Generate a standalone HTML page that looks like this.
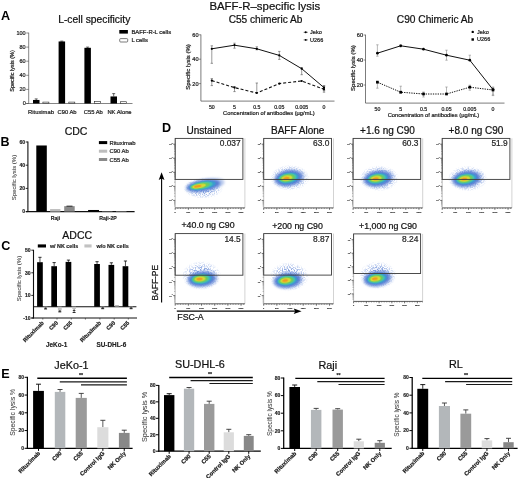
<!DOCTYPE html>
<html><head><meta charset="utf-8"><title>Figure</title>
<style>html,body{margin:0;padding:0;background:#fff}svg{display:block}text{font-family:'Liberation Sans', sans-serif}</style>
</head><body>
<svg width="520" height="478" viewBox="0 0 520 478" font-family="Liberation Sans, sans-serif">
<rect width="520" height="478" fill="#fff"/>
<text x="1" y="20.3" font-size="12.6" text-anchor="start" font-weight="bold" fill="#000">A</text>
<text x="58.2" y="23" font-size="10.3" text-anchor="start" font-weight="normal" fill="#111" stroke="#111" stroke-width="0.22">L-cell specificity</text>
<line x1="28.7" y1="32.7" x2="28.7" y2="103.8" stroke="#666" stroke-width="0.8"/>
<line x1="26.2" y1="103.5" x2="132.5" y2="103.5" stroke="#666" stroke-width="0.8"/>
<line x1="26.2" y1="103.5" x2="28.7" y2="103.5" stroke="#444" stroke-width="0.6"/>
<text x="25.7" y="105.4" font-size="5.5" text-anchor="end" font-weight="normal" fill="#222" stroke="#222" stroke-width="0.22">0</text>
<line x1="26.2" y1="89.4" x2="28.7" y2="89.4" stroke="#444" stroke-width="0.6"/>
<text x="25.7" y="91.30000000000001" font-size="5.5" text-anchor="end" font-weight="normal" fill="#222" stroke="#222" stroke-width="0.22">20</text>
<line x1="26.2" y1="75.3" x2="28.7" y2="75.3" stroke="#444" stroke-width="0.6"/>
<text x="25.7" y="77.2" font-size="5.5" text-anchor="end" font-weight="normal" fill="#222" stroke="#222" stroke-width="0.22">40</text>
<line x1="26.2" y1="61.2" x2="28.7" y2="61.2" stroke="#444" stroke-width="0.6"/>
<text x="25.7" y="63.1" font-size="5.5" text-anchor="end" font-weight="normal" fill="#222" stroke="#222" stroke-width="0.22">60</text>
<line x1="26.2" y1="47.1" x2="28.7" y2="47.1" stroke="#444" stroke-width="0.6"/>
<text x="25.7" y="49.0" font-size="5.5" text-anchor="end" font-weight="normal" fill="#222" stroke="#222" stroke-width="0.22">80</text>
<line x1="26.2" y1="33.0" x2="28.7" y2="33.0" stroke="#444" stroke-width="0.6"/>
<text x="25.7" y="34.9" font-size="5.5" text-anchor="end" font-weight="normal" fill="#222" stroke="#222" stroke-width="0.22">100</text>
<text x="13.7" y="71" font-size="5.5" text-anchor="middle" font-weight="normal" fill="#222" transform="rotate(-90 13.7 71)" stroke="#222" stroke-width="0.22">Specific lysis (%)</text>
<line x1="36.2" y1="99.975" x2="36.2" y2="98.9175" stroke="#000" stroke-width="0.6"/>
<line x1="34.7" y1="98.9175" x2="37.7" y2="98.9175" stroke="#000" stroke-width="0.6"/>
<rect x="33.00" y="99.97" width="6.50" height="3.52" fill="#000" stroke="none" stroke-width="0.5"/>
<rect x="42.90" y="102.09" width="6.00" height="1.41" fill="#fff" stroke="#222" stroke-width="0.6"/>
<text x="41" y="113.6" font-size="5.8" text-anchor="middle" font-weight="normal" fill="#222" stroke="#222" stroke-width="0.22">Rituximab</text>
<line x1="61.800000000000004" y1="41.46" x2="61.800000000000004" y2="41.1075" stroke="#000" stroke-width="0.6"/>
<line x1="60.300000000000004" y1="41.1075" x2="63.300000000000004" y2="41.1075" stroke="#000" stroke-width="0.6"/>
<rect x="58.60" y="41.46" width="6.50" height="62.04" fill="#000" stroke="none" stroke-width="0.5"/>
<rect x="68.80" y="102.09" width="6.00" height="1.41" fill="#fff" stroke="#222" stroke-width="0.6"/>
<text x="67" y="113.6" font-size="5.8" text-anchor="middle" font-weight="normal" fill="#222" stroke="#222" stroke-width="0.22">C90 Ab</text>
<line x1="87.60000000000001" y1="47.805" x2="87.60000000000001" y2="47.1" stroke="#000" stroke-width="0.6"/>
<line x1="86.10000000000001" y1="47.1" x2="89.10000000000001" y2="47.1" stroke="#000" stroke-width="0.6"/>
<rect x="84.40" y="47.80" width="6.50" height="55.70" fill="#000" stroke="none" stroke-width="0.5"/>
<rect x="94.60" y="101.39" width="6.00" height="2.11" fill="#fff" stroke="#222" stroke-width="0.6"/>
<text x="93.3" y="113.6" font-size="5.8" text-anchor="middle" font-weight="normal" fill="#222" stroke="#222" stroke-width="0.22">C55 Ab</text>
<line x1="113.7" y1="96.45" x2="113.7" y2="93.63" stroke="#000" stroke-width="0.6"/>
<line x1="112.2" y1="93.63" x2="115.2" y2="93.63" stroke="#000" stroke-width="0.6"/>
<rect x="110.50" y="96.45" width="6.50" height="7.05" fill="#000" stroke="none" stroke-width="0.5"/>
<rect x="120.60" y="101.74" width="6.00" height="1.76" fill="#fff" stroke="#222" stroke-width="0.6"/>
<text x="119.5" y="113.6" font-size="5.8" text-anchor="middle" font-weight="normal" fill="#222" stroke="#222" stroke-width="0.22">NK Alone</text>
<rect x="119.30" y="30.00" width="8.60" height="3.60" fill="#000" stroke="none" stroke-width="0.5"/>
<rect x="119.7" y="38.6" width="8" height="3.4" rx="0.9" fill="#fff" stroke="#444" stroke-width="0.7"/>
<text x="131.4" y="34.1" font-size="5.9" text-anchor="start" font-weight="normal" fill="#222" stroke="#222" stroke-width="0.22">BAFF-R-L cells</text>
<text x="131.4" y="42.1" font-size="5.9" text-anchor="start" font-weight="normal" fill="#222" stroke="#222" stroke-width="0.22">L cells</text>
<text x="264.8" y="10" font-size="11.4" text-anchor="middle" font-weight="normal" fill="#111" stroke="#111" stroke-width="0.22">BAFF-R–specific lysis</text>
<text x="265.5" y="22.6" font-size="10.15" text-anchor="middle" font-weight="normal" fill="#111" stroke="#111" stroke-width="0.22">C55 chimeric Ab</text>
<text x="435" y="23" font-size="10.2" text-anchor="middle" font-weight="normal" fill="#111" stroke="#111" stroke-width="0.22">C90 Chimeric Ab</text>
<line x1="200.9" y1="34.5" x2="200.9" y2="101.1" stroke="#444" stroke-width="0.7"/>
<line x1="200.9" y1="101.1" x2="334.5" y2="101.1" stroke="#444" stroke-width="0.7"/>
<line x1="198.9" y1="83.6" x2="200.9" y2="83.6" stroke="#444" stroke-width="0.6"/>
<text x="198.5" y="85.6" font-size="5.6" text-anchor="end" font-weight="normal" fill="#222" stroke="#222" stroke-width="0.22">20</text>
<line x1="198.9" y1="59.199999999999996" x2="200.9" y2="59.199999999999996" stroke="#444" stroke-width="0.6"/>
<text x="198.5" y="61.199999999999996" font-size="5.6" text-anchor="end" font-weight="normal" fill="#222" stroke="#222" stroke-width="0.22">40</text>
<line x1="198.9" y1="34.8" x2="200.9" y2="34.8" stroke="#444" stroke-width="0.6"/>
<text x="198.5" y="36.8" font-size="5.6" text-anchor="end" font-weight="normal" fill="#222" stroke="#222" stroke-width="0.22">60</text>
<text x="211.8" y="108.5" font-size="5.2" text-anchor="middle" font-weight="normal" fill="#222" stroke="#222" stroke-width="0.22">50</text>
<text x="234.5" y="108.5" font-size="5.2" text-anchor="middle" font-weight="normal" fill="#222" stroke="#222" stroke-width="0.22">5</text>
<text x="256.8" y="108.5" font-size="5.2" text-anchor="middle" font-weight="normal" fill="#222" stroke="#222" stroke-width="0.22">0.5</text>
<text x="279.3" y="108.5" font-size="5.2" text-anchor="middle" font-weight="normal" fill="#222" stroke="#222" stroke-width="0.22">0.05</text>
<text x="301.7" y="108.5" font-size="5.2" text-anchor="middle" font-weight="normal" fill="#222" stroke="#222" stroke-width="0.22">0.005</text>
<text x="324" y="108.5" font-size="5.2" text-anchor="middle" font-weight="normal" fill="#222" stroke="#222" stroke-width="0.22">0</text>
<text x="268.8" y="114.6" font-size="5.76" text-anchor="middle" font-weight="normal" fill="#222" stroke="#222" stroke-width="0.22">Concentration of antibodies (µg/mL)</text>
<text x="190.5" y="66.94999999999999" font-size="6.05" text-anchor="middle" font-weight="normal" fill="#222" transform="rotate(-90 190.5 66.94999999999999)" stroke="#222" stroke-width="0.22">Specific lysis (%)</text>
<line x1="211.8" y1="45.8" x2="211.8" y2="63.3" stroke="#555" stroke-width="0.6"/>
<line x1="210.60000000000002" y1="45.8" x2="213.0" y2="45.8" stroke="#555" stroke-width="0.6"/>
<line x1="210.60000000000002" y1="63.3" x2="213.0" y2="63.3" stroke="#555" stroke-width="0.6"/>
<line x1="234.5" y1="43.2" x2="234.5" y2="48.2" stroke="#555" stroke-width="0.6"/>
<line x1="233.3" y1="43.2" x2="235.7" y2="43.2" stroke="#555" stroke-width="0.6"/>
<line x1="233.3" y1="48.2" x2="235.7" y2="48.2" stroke="#555" stroke-width="0.6"/>
<line x1="256.8" y1="46.8" x2="256.8" y2="49.8" stroke="#555" stroke-width="0.6"/>
<line x1="255.60000000000002" y1="46.8" x2="258.0" y2="46.8" stroke="#555" stroke-width="0.6"/>
<line x1="255.60000000000002" y1="49.8" x2="258.0" y2="49.8" stroke="#555" stroke-width="0.6"/>
<line x1="279.3" y1="51.4" x2="279.3" y2="59.4" stroke="#555" stroke-width="0.6"/>
<line x1="278.1" y1="51.4" x2="280.5" y2="51.4" stroke="#555" stroke-width="0.6"/>
<line x1="278.1" y1="59.4" x2="280.5" y2="59.4" stroke="#555" stroke-width="0.6"/>
<line x1="301.7" y1="67.7" x2="301.7" y2="74.7" stroke="#555" stroke-width="0.6"/>
<line x1="300.5" y1="67.7" x2="302.9" y2="67.7" stroke="#555" stroke-width="0.6"/>
<line x1="300.5" y1="74.7" x2="302.9" y2="74.7" stroke="#555" stroke-width="0.6"/>
<line x1="324" y1="85.6" x2="324" y2="90.6" stroke="#555" stroke-width="0.6"/>
<line x1="322.8" y1="85.6" x2="325.2" y2="85.6" stroke="#555" stroke-width="0.6"/>
<line x1="322.8" y1="90.6" x2="325.2" y2="90.6" stroke="#555" stroke-width="0.6"/>
<line x1="211.8" y1="78.6" x2="211.8" y2="85.6" stroke="#555" stroke-width="0.6"/>
<line x1="210.60000000000002" y1="78.6" x2="213.0" y2="78.6" stroke="#555" stroke-width="0.6"/>
<line x1="210.60000000000002" y1="85.6" x2="213.0" y2="85.6" stroke="#555" stroke-width="0.6"/>
<line x1="234.5" y1="86.6" x2="234.5" y2="91.6" stroke="#555" stroke-width="0.6"/>
<line x1="233.3" y1="86.6" x2="235.7" y2="86.6" stroke="#555" stroke-width="0.6"/>
<line x1="233.3" y1="91.6" x2="235.7" y2="91.6" stroke="#555" stroke-width="0.6"/>
<line x1="256.8" y1="83" x2="256.8" y2="93" stroke="#555" stroke-width="0.6"/>
<line x1="255.60000000000002" y1="83" x2="258.0" y2="83" stroke="#555" stroke-width="0.6"/>
<line x1="279.3" y1="83.1" x2="279.3" y2="84.1" stroke="#555" stroke-width="0.6"/>
<line x1="301.7" y1="80.5" x2="301.7" y2="81.5" stroke="#555" stroke-width="0.6"/>
<line x1="324" y1="86.2" x2="324" y2="92.2" stroke="#555" stroke-width="0.6"/>
<line x1="322.8" y1="86.2" x2="325.2" y2="86.2" stroke="#555" stroke-width="0.6"/>
<line x1="322.8" y1="92.2" x2="325.2" y2="92.2" stroke="#555" stroke-width="0.6"/>
<polyline points="211.8,48.8 234.5,45.2 256.8,48.8 279.3,55.4 301.7,68.7 324,87.6" fill="none" stroke="#111" stroke-width="1.0"/>
<polyline points="211.8,80.6 234.5,87.6 256.8,93 279.3,83.6 301.7,81 324,89.2" fill="none" stroke="#111" stroke-width="1.1" stroke-dasharray="3 2"/>
<circle cx="211.8" cy="48.8" r="1.1" fill="#000"/>
<circle cx="234.5" cy="45.2" r="1.1" fill="#000"/>
<circle cx="256.8" cy="48.8" r="1.1" fill="#000"/>
<circle cx="279.3" cy="55.4" r="1.1" fill="#000"/>
<circle cx="301.7" cy="68.7" r="1.1" fill="#000"/>
<circle cx="324" cy="87.6" r="1.1" fill="#000"/>
<circle cx="211.8" cy="80.6" r="1.1" fill="#000"/>
<circle cx="234.5" cy="87.6" r="1.1" fill="#000"/>
<circle cx="256.8" cy="93" r="1.1" fill="#000"/>
<circle cx="279.3" cy="83.6" r="1.1" fill="#000"/>
<circle cx="301.7" cy="81" r="1.1" fill="#000"/>
<circle cx="324" cy="89.2" r="1.1" fill="#000"/>
<circle cx="305.7" cy="32.3" r="0.9900000000000001" fill="#000"/>
<circle cx="305.7" cy="39.9" r="0.9" fill="#000"/>
<line x1="303.7" y1="32.3" x2="307.7" y2="32.3" stroke="#000" stroke-width="0.6"/>
<line x1="303.7" y1="39.9" x2="307.7" y2="39.9" stroke="#000" stroke-width="0.6"/>
<text x="310.09999999999997" y="34.199999999999996" font-size="5.5" text-anchor="start" font-weight="normal" fill="#222" stroke="#222" stroke-width="0.22">Jeko</text>
<text x="310.09999999999997" y="41.8" font-size="5.5" text-anchor="start" font-weight="normal" fill="#222" stroke="#222" stroke-width="0.22">U266</text>
<line x1="365.5" y1="34.7" x2="365.5" y2="103.1" stroke="#444" stroke-width="0.7"/>
<line x1="365.5" y1="103.1" x2="504.5" y2="103.1" stroke="#444" stroke-width="0.7"/>
<line x1="363.5" y1="85.0" x2="365.5" y2="85.0" stroke="#444" stroke-width="0.6"/>
<text x="363.1" y="87.0" font-size="5.6" text-anchor="end" font-weight="normal" fill="#222" stroke="#222" stroke-width="0.22">20</text>
<line x1="363.5" y1="60.0" x2="365.5" y2="60.0" stroke="#444" stroke-width="0.6"/>
<text x="363.1" y="62.0" font-size="5.6" text-anchor="end" font-weight="normal" fill="#222" stroke="#222" stroke-width="0.22">40</text>
<line x1="363.5" y1="35.0" x2="365.5" y2="35.0" stroke="#444" stroke-width="0.6"/>
<text x="363.1" y="37.0" font-size="5.6" text-anchor="end" font-weight="normal" fill="#222" stroke="#222" stroke-width="0.22">60</text>
<text x="377.4" y="110.5" font-size="5.2" text-anchor="middle" font-weight="normal" fill="#222" stroke="#222" stroke-width="0.22">50</text>
<text x="400.7" y="110.5" font-size="5.2" text-anchor="middle" font-weight="normal" fill="#222" stroke="#222" stroke-width="0.22">5</text>
<text x="423.5" y="110.5" font-size="5.2" text-anchor="middle" font-weight="normal" fill="#222" stroke="#222" stroke-width="0.22">0.5</text>
<text x="446.5" y="110.5" font-size="5.2" text-anchor="middle" font-weight="normal" fill="#222" stroke="#222" stroke-width="0.22">0.05</text>
<text x="469.8" y="110.5" font-size="5.2" text-anchor="middle" font-weight="normal" fill="#222" stroke="#222" stroke-width="0.22">0.005</text>
<text x="493" y="110.5" font-size="5.2" text-anchor="middle" font-weight="normal" fill="#222" stroke="#222" stroke-width="0.22">0</text>
<text x="433.4" y="116.6" font-size="5.76" text-anchor="middle" font-weight="normal" fill="#222" stroke="#222" stroke-width="0.22">Concentration of antibodies (µg/mL)</text>
<text x="355.1" y="68.05" font-size="6.05" text-anchor="middle" font-weight="normal" fill="#222" transform="rotate(-90 355.1 68.05)" stroke="#222" stroke-width="0.22">Specific lysis (%)</text>
<line x1="377.4" y1="44.800000000000004" x2="377.4" y2="56.2" stroke="#888" stroke-width="0.6"/>
<line x1="376.2" y1="44.800000000000004" x2="378.59999999999997" y2="44.800000000000004" stroke="#888" stroke-width="0.6"/>
<line x1="376.2" y1="56.2" x2="378.59999999999997" y2="56.2" stroke="#888" stroke-width="0.6"/>
<line x1="400.7" y1="44.8" x2="400.7" y2="46.8" stroke="#888" stroke-width="0.6"/>
<line x1="399.5" y1="44.8" x2="401.9" y2="44.8" stroke="#888" stroke-width="0.6"/>
<line x1="399.5" y1="46.8" x2="401.9" y2="46.8" stroke="#888" stroke-width="0.6"/>
<line x1="423.5" y1="48.7" x2="423.5" y2="49.7" stroke="#888" stroke-width="0.6"/>
<line x1="446.5" y1="50.2" x2="446.5" y2="60.2" stroke="#888" stroke-width="0.6"/>
<line x1="445.3" y1="50.2" x2="447.7" y2="50.2" stroke="#888" stroke-width="0.6"/>
<line x1="445.3" y1="60.2" x2="447.7" y2="60.2" stroke="#888" stroke-width="0.6"/>
<line x1="469.8" y1="55.2" x2="469.8" y2="60.7" stroke="#888" stroke-width="0.6"/>
<line x1="468.6" y1="55.2" x2="471.0" y2="55.2" stroke="#888" stroke-width="0.6"/>
<line x1="493" y1="87.6" x2="493" y2="95.6" stroke="#888" stroke-width="0.6"/>
<line x1="491.8" y1="87.6" x2="494.2" y2="87.6" stroke="#888" stroke-width="0.6"/>
<line x1="491.8" y1="95.6" x2="494.2" y2="95.6" stroke="#888" stroke-width="0.6"/>
<line x1="377.4" y1="81.2" x2="377.4" y2="88.2" stroke="#888" stroke-width="0.6"/>
<line x1="376.2" y1="81.2" x2="378.59999999999997" y2="81.2" stroke="#888" stroke-width="0.6"/>
<line x1="376.2" y1="88.2" x2="378.59999999999997" y2="88.2" stroke="#888" stroke-width="0.6"/>
<line x1="400.7" y1="86.2" x2="400.7" y2="93.2" stroke="#888" stroke-width="0.6"/>
<line x1="399.5" y1="86.2" x2="401.9" y2="86.2" stroke="#888" stroke-width="0.6"/>
<line x1="399.5" y1="93.2" x2="401.9" y2="93.2" stroke="#888" stroke-width="0.6"/>
<line x1="423.5" y1="92" x2="423.5" y2="97" stroke="#888" stroke-width="0.6"/>
<line x1="422.3" y1="92" x2="424.7" y2="92" stroke="#888" stroke-width="0.6"/>
<line x1="422.3" y1="97" x2="424.7" y2="97" stroke="#888" stroke-width="0.6"/>
<line x1="446.5" y1="87" x2="446.5" y2="94.5" stroke="#888" stroke-width="0.6"/>
<line x1="445.3" y1="87" x2="447.7" y2="87" stroke="#888" stroke-width="0.6"/>
<line x1="469.8" y1="85.2" x2="469.8" y2="90.2" stroke="#888" stroke-width="0.6"/>
<line x1="468.6" y1="85.2" x2="471.0" y2="85.2" stroke="#888" stroke-width="0.6"/>
<line x1="468.6" y1="90.2" x2="471.0" y2="90.2" stroke="#888" stroke-width="0.6"/>
<line x1="493" y1="87" x2="493" y2="95" stroke="#888" stroke-width="0.6"/>
<line x1="491.8" y1="87" x2="494.2" y2="87" stroke="#888" stroke-width="0.6"/>
<line x1="491.8" y1="95" x2="494.2" y2="95" stroke="#888" stroke-width="0.6"/>
<polyline points="377.4,53.2 400.7,45.8 423.5,49.2 446.5,55.2 469.8,60.2 493,89.6" fill="none" stroke="#111" stroke-width="1.0"/>
<polyline points="377.4,82.2 400.7,92.2 423.5,94 446.5,94 469.8,87.2 493,90" fill="none" stroke="#111" stroke-width="1.0" stroke-dasharray="1.3 1.1"/>
<circle cx="377.4" cy="53.2" r="1.35" fill="#000"/>
<circle cx="400.7" cy="45.8" r="1.35" fill="#000"/>
<circle cx="423.5" cy="49.2" r="1.35" fill="#000"/>
<circle cx="446.5" cy="55.2" r="1.35" fill="#000"/>
<circle cx="469.8" cy="60.2" r="1.35" fill="#000"/>
<circle cx="493" cy="89.6" r="1.35" fill="#000"/>
<rect x="376.05" y="80.85" width="2.70" height="2.70" fill="#000" stroke="none" stroke-width="0.5"/>
<rect x="399.35" y="90.85" width="2.70" height="2.70" fill="#000" stroke="none" stroke-width="0.5"/>
<rect x="422.15" y="92.65" width="2.70" height="2.70" fill="#000" stroke="none" stroke-width="0.5"/>
<rect x="445.15" y="92.65" width="2.70" height="2.70" fill="#000" stroke="none" stroke-width="0.5"/>
<rect x="468.45" y="85.85" width="2.70" height="2.70" fill="#000" stroke="none" stroke-width="0.5"/>
<rect x="491.65" y="88.65" width="2.70" height="2.70" fill="#000" stroke="none" stroke-width="0.5"/>
<circle cx="472.7" cy="31.9" r="1.215" fill="#000"/>
<rect x="471.49" y="38.28" width="2.43" height="2.43" fill="#000" stroke="none" stroke-width="0.5"/>
<text x="477.09999999999997" y="33.8" font-size="5.5" text-anchor="start" font-weight="normal" fill="#222" stroke="#222" stroke-width="0.22">Jeko</text>
<text x="477.09999999999997" y="41.4" font-size="5.5" text-anchor="start" font-weight="normal" fill="#222" stroke="#222" stroke-width="0.22">U266</text>
<text x="0.5" y="146.4" font-size="12.5" text-anchor="start" font-weight="bold" fill="#000">B</text>
<text x="76" y="134.9" font-size="10.5" text-anchor="middle" font-weight="normal" fill="#111" stroke="#111" stroke-width="0.22">CDC</text>
<line x1="27.9" y1="141.6" x2="27.9" y2="212.1" stroke="#111" stroke-width="1.1"/>
<line x1="25.9" y1="211.6" x2="134.6" y2="211.6" stroke="#111" stroke-width="1.1"/>
<line x1="25.7" y1="211.6" x2="27.9" y2="211.6" stroke="#111" stroke-width="0.9"/>
<text x="25.099999999999998" y="213.4" font-size="5.1" text-anchor="end" font-weight="bold" fill="#222" stroke="#222" stroke-width="0.15">0</text>
<line x1="25.7" y1="188.4" x2="27.9" y2="188.4" stroke="#111" stroke-width="0.9"/>
<text x="25.099999999999998" y="190.20000000000002" font-size="5.1" text-anchor="end" font-weight="bold" fill="#222" stroke="#222" stroke-width="0.15">20</text>
<line x1="25.7" y1="165.2" x2="27.9" y2="165.2" stroke="#111" stroke-width="0.9"/>
<text x="25.099999999999998" y="167.0" font-size="5.1" text-anchor="end" font-weight="bold" fill="#222" stroke="#222" stroke-width="0.15">40</text>
<line x1="25.7" y1="142.0" x2="27.9" y2="142.0" stroke="#111" stroke-width="0.9"/>
<text x="25.099999999999998" y="143.8" font-size="5.1" text-anchor="end" font-weight="bold" fill="#222" stroke="#222" stroke-width="0.15">60</text>
<text x="15.6" y="177.5" font-size="6.0" text-anchor="middle" font-weight="normal" fill="#444" transform="rotate(-90 15.6 177.5)" stroke="#444" stroke-width="0.08">Specific lysis (%)</text>
<rect x="36.30" y="145.48" width="10.50" height="66.12" fill="#000" stroke="none" stroke-width="0.5"/>
<rect x="50.10" y="209.05" width="10.30" height="2.55" fill="#bdbdbd" stroke="none" stroke-width="0.5"/>
<rect x="64.20" y="206.15" width="10.50" height="5.45" fill="#8a8a8a" stroke="none" stroke-width="0.5"/>
<line x1="66.5" y1="206.148" x2="72.5" y2="206.148" stroke="#000" stroke-width="0.8"/>
<rect x="88.10" y="209.98" width="10.90" height="1.62" fill="#000" stroke="none" stroke-width="0.5"/>
<rect x="102.00" y="211.25" width="10.50" height="0.35" fill="#bdbdbd" stroke="none" stroke-width="0.5"/>
<rect x="116.00" y="211.02" width="10.50" height="0.58" fill="#8a8a8a" stroke="none" stroke-width="0.5"/>
<text x="55.5" y="220" font-size="5.2" text-anchor="middle" font-weight="bold" fill="#222" stroke="#222" stroke-width="0.15">Raji</text>
<text x="108" y="220" font-size="5.2" text-anchor="middle" font-weight="bold" fill="#222" stroke="#222" stroke-width="0.15">Raji-2P</text>
<rect x="98.90" y="141.10" width="8.30" height="3.00" fill="#000" stroke="none" stroke-width="0.5"/>
<rect x="98.90" y="149.70" width="8.30" height="3.00" fill="#bdbdbd" stroke="none" stroke-width="0.5"/>
<rect x="98.90" y="158.00" width="8.30" height="3.00" fill="#8a8a8a" stroke="none" stroke-width="0.5"/>
<text x="109.4" y="144.7" font-size="5.9" text-anchor="start" font-weight="normal" fill="#222" stroke="#222" stroke-width="0.22">Rituximab</text>
<text x="109.4" y="153.3" font-size="5.9" text-anchor="start" font-weight="normal" fill="#222" stroke="#222" stroke-width="0.22">C90 Ab</text>
<text x="109.4" y="161.6" font-size="5.9" text-anchor="start" font-weight="normal" fill="#222" stroke="#222" stroke-width="0.22">C55 Ab</text>
<text x="1.3" y="250" font-size="12.6" text-anchor="start" font-weight="bold" fill="#000">C</text>
<text x="77.2" y="238.8" font-size="10.5" text-anchor="middle" font-weight="normal" fill="#111" stroke="#111" stroke-width="0.22">ADCC</text>
<line x1="33.5" y1="249.79999999999998" x2="33.5" y2="318.5" stroke="#111" stroke-width="1.1"/>
<line x1="33.5" y1="306.7" x2="136.4" y2="306.7" stroke="#111" stroke-width="1.1"/>
<line x1="31.3" y1="318.0" x2="137" y2="318.0" stroke="#111" stroke-width="1.0"/>
<line x1="31.3" y1="318.0" x2="33.5" y2="318.0" stroke="#111" stroke-width="0.9"/>
<text x="30.7" y="319.8" font-size="5.1" text-anchor="end" font-weight="bold" fill="#222" stroke="#222" stroke-width="0.15">-10</text>
<line x1="31.3" y1="295.4" x2="33.5" y2="295.4" stroke="#111" stroke-width="0.9"/>
<text x="30.7" y="297.2" font-size="5.1" text-anchor="end" font-weight="bold" fill="#222" stroke="#222" stroke-width="0.15">10</text>
<line x1="31.3" y1="272.8" x2="33.5" y2="272.8" stroke="#111" stroke-width="0.9"/>
<text x="30.7" y="274.6" font-size="5.1" text-anchor="end" font-weight="bold" fill="#222" stroke="#222" stroke-width="0.15">30</text>
<line x1="31.3" y1="250.2" x2="33.5" y2="250.2" stroke="#111" stroke-width="0.9"/>
<text x="30.7" y="252.0" font-size="5.1" text-anchor="end" font-weight="bold" fill="#222" stroke="#222" stroke-width="0.15">50</text>
<text x="21" y="278.5" font-size="6.0" text-anchor="middle" font-weight="normal" fill="#444" transform="rotate(-90 21 278.5)" stroke="#444" stroke-width="0.08">Specific lysis (%)</text>
<line x1="39.95" y1="262.2" x2="39.95" y2="257.3" stroke="#000" stroke-width="0.7"/>
<line x1="38.35" y1="257.3" x2="41.550000000000004" y2="257.3" stroke="#000" stroke-width="0.8"/>
<rect x="37.10" y="262.20" width="5.70" height="44.50" fill="#000" stroke="none" stroke-width="0.5"/>
<rect x="43.70" y="306.70" width="3.80" height="0.80" fill="#c4c4c4" stroke="none" stroke-width="0.5"/>
<line x1="45.6" y1="307.5" x2="45.6" y2="309.0" stroke="#000" stroke-width="0.6"/>
<line x1="44.1" y1="309.0" x2="47.1" y2="309.0" stroke="#000" stroke-width="0.8"/>
<line x1="44.300000000000004" y1="308.175" x2="46.900000000000006" y2="308.175" stroke="#000" stroke-width="0.7"/>
<line x1="42.800000000000004" y1="318.0" x2="42.800000000000004" y2="319.6" stroke="#222" stroke-width="0.6"/>
<text x="44.300000000000004" y="323.3" font-size="5.6" text-anchor="end" font-weight="bold" fill="#1a1a1a" transform="rotate(-45 44.300000000000004 323.3)" stroke="#1a1a1a" stroke-width="0.2">Rituximab</text>
<line x1="54.15" y1="266.2" x2="54.15" y2="262.6" stroke="#000" stroke-width="0.7"/>
<line x1="52.55" y1="262.6" x2="55.75" y2="262.6" stroke="#000" stroke-width="0.8"/>
<rect x="51.30" y="266.20" width="5.70" height="40.50" fill="#000" stroke="none" stroke-width="0.5"/>
<rect x="57.90" y="306.70" width="3.80" height="3.60" fill="#c4c4c4" stroke="none" stroke-width="0.5"/>
<line x1="59.8" y1="310.3" x2="59.8" y2="311.90000000000003" stroke="#000" stroke-width="0.6"/>
<line x1="58.3" y1="311.90000000000003" x2="61.3" y2="311.90000000000003" stroke="#000" stroke-width="0.8"/>
<line x1="58.5" y1="311.02000000000004" x2="61.1" y2="311.02000000000004" stroke="#000" stroke-width="0.7"/>
<line x1="57.0" y1="318.0" x2="57.0" y2="319.6" stroke="#222" stroke-width="0.6"/>
<text x="58.5" y="323.3" font-size="5.6" text-anchor="end" font-weight="bold" fill="#1a1a1a" transform="rotate(-45 58.5 323.3)" stroke="#1a1a1a" stroke-width="0.2">C90</text>
<line x1="68.44999999999999" y1="261.9" x2="68.44999999999999" y2="260.1" stroke="#000" stroke-width="0.7"/>
<line x1="66.85" y1="260.1" x2="70.04999999999998" y2="260.1" stroke="#000" stroke-width="0.8"/>
<rect x="65.60" y="261.90" width="5.70" height="44.80" fill="#000" stroke="none" stroke-width="0.5"/>
<rect x="72.20" y="306.70" width="3.80" height="2.20" fill="#c4c4c4" stroke="none" stroke-width="0.5"/>
<line x1="74.1" y1="308.9" x2="74.1" y2="312.5" stroke="#000" stroke-width="0.6"/>
<line x1="72.6" y1="312.5" x2="75.6" y2="312.5" stroke="#000" stroke-width="0.8"/>
<line x1="72.79999999999998" y1="310.52" x2="75.39999999999999" y2="310.52" stroke="#000" stroke-width="0.7"/>
<line x1="71.3" y1="318.0" x2="71.3" y2="319.6" stroke="#222" stroke-width="0.6"/>
<text x="72.8" y="323.3" font-size="5.6" text-anchor="end" font-weight="bold" fill="#1a1a1a" transform="rotate(-45 72.8 323.3)" stroke="#1a1a1a" stroke-width="0.2">C55</text>
<line x1="97.05" y1="264" x2="97.05" y2="261.7" stroke="#000" stroke-width="0.7"/>
<line x1="95.45" y1="261.7" x2="98.64999999999999" y2="261.7" stroke="#000" stroke-width="0.8"/>
<rect x="94.20" y="264.00" width="5.70" height="42.70" fill="#000" stroke="none" stroke-width="0.5"/>
<rect x="100.80" y="306.70" width="3.80" height="0.60" fill="#c4c4c4" stroke="none" stroke-width="0.5"/>
<line x1="102.7" y1="307.3" x2="102.7" y2="308.7" stroke="#000" stroke-width="0.6"/>
<line x1="101.2" y1="308.7" x2="104.2" y2="308.7" stroke="#000" stroke-width="0.8"/>
<line x1="101.39999999999999" y1="307.93" x2="104.0" y2="307.93" stroke="#000" stroke-width="0.7"/>
<line x1="99.9" y1="318.0" x2="99.9" y2="319.6" stroke="#222" stroke-width="0.6"/>
<text x="101.4" y="323.3" font-size="5.6" text-anchor="end" font-weight="bold" fill="#1a1a1a" transform="rotate(-45 101.4 323.3)" stroke="#1a1a1a" stroke-width="0.2">Rituximab</text>
<line x1="111.35" y1="264.9" x2="111.35" y2="262.8" stroke="#000" stroke-width="0.7"/>
<line x1="109.75" y1="262.8" x2="112.94999999999999" y2="262.8" stroke="#000" stroke-width="0.8"/>
<rect x="108.50" y="264.90" width="5.70" height="41.80" fill="#000" stroke="none" stroke-width="0.5"/>
<rect x="115.10" y="305.30" width="3.80" height="1.40" fill="#9a9a9a" stroke="none" stroke-width="0.5"/>
<line x1="114.2" y1="318.0" x2="114.2" y2="319.6" stroke="#222" stroke-width="0.6"/>
<text x="115.7" y="323.3" font-size="5.6" text-anchor="end" font-weight="bold" fill="#1a1a1a" transform="rotate(-45 115.7 323.3)" stroke="#1a1a1a" stroke-width="0.2">C90</text>
<line x1="125.44999999999999" y1="266.2" x2="125.44999999999999" y2="261" stroke="#000" stroke-width="0.7"/>
<line x1="123.85" y1="261" x2="127.04999999999998" y2="261" stroke="#000" stroke-width="0.8"/>
<rect x="122.60" y="266.20" width="5.70" height="40.50" fill="#000" stroke="none" stroke-width="0.5"/>
<rect x="129.20" y="306.70" width="3.80" height="0.60" fill="#c4c4c4" stroke="none" stroke-width="0.5"/>
<line x1="131.1" y1="307.3" x2="131.1" y2="308.7" stroke="#000" stroke-width="0.6"/>
<line x1="129.6" y1="308.7" x2="132.6" y2="308.7" stroke="#000" stroke-width="0.8"/>
<line x1="129.79999999999998" y1="307.93" x2="132.39999999999998" y2="307.93" stroke="#000" stroke-width="0.7"/>
<line x1="128.29999999999998" y1="318.0" x2="128.29999999999998" y2="319.6" stroke="#222" stroke-width="0.6"/>
<text x="129.79999999999998" y="323.3" font-size="5.6" text-anchor="end" font-weight="bold" fill="#1a1a1a" transform="rotate(-45 129.79999999999998 323.3)" stroke="#1a1a1a" stroke-width="0.2">C55</text>
<line x1="85.4" y1="318.0" x2="85.4" y2="319.6" stroke="#222" stroke-width="0.6"/>
<rect x="37.80" y="244.40" width="8.20" height="3.10" fill="#000" stroke="none" stroke-width="0.5"/>
<rect x="84.40" y="244.40" width="7.20" height="3.10" fill="#c2c2c2" stroke="none" stroke-width="0.5"/>
<text x="49.9" y="247.7" font-size="5.4" text-anchor="start" font-weight="bold" fill="#222" stroke="#222" stroke-width="0.15">w/ NK cells</text>
<text x="96.4" y="247.7" font-size="5.5" text-anchor="start" font-weight="bold" fill="#222" stroke="#222" stroke-width="0.15">w/o NK cells</text>
<text x="56.6" y="346.5" font-size="6.4" text-anchor="middle" font-weight="bold" fill="#222" stroke="#222" stroke-width="0.15">JeKo-1</text>
<text x="111.4" y="346.5" font-size="6.4" text-anchor="middle" font-weight="bold" fill="#222" stroke="#222" stroke-width="0.15">SU-DHL-6</text>
<text x="162.1" y="132.1" font-size="12.6" text-anchor="start" font-weight="bold" fill="#000">D</text>
<defs>
<filter id="bl" x="-50%" y="-50%" width="200%" height="200%"><feGaussianBlur stdDeviation="1.0"/></filter>
<filter id="bl2" x="-50%" y="-50%" width="200%" height="200%"><feGaussianBlur stdDeviation="0.6"/></filter>
<filter id="sp" x="-20%" y="-20%" width="140%" height="140%"><feTurbulence type="fractalNoise" baseFrequency="0.85" numOctaves="2" seed="5" result="n"/><feColorMatrix in="n" type="matrix" values="0 0 0 0 0 0 0 0 0 0 0 0 0 0 0 0 0 0 4.5 -1.9" result="a"/><feComposite in="SourceGraphic" in2="a" operator="in"/></filter>
<radialGradient id="hz"><stop offset="0" stop-color="#5f83d4" stop-opacity="1"/><stop offset="0.45" stop-color="#6f90da" stop-opacity="0.85"/><stop offset="0.8" stop-color="#8aa6e2" stop-opacity="0.4"/><stop offset="1" stop-color="#9fb6e8" stop-opacity="0"/></radialGradient>
</defs>
<line x1="175.2" y1="138.4" x2="175.2" y2="207.9" stroke="#999" stroke-width="0.6"/>
<line x1="244.9" y1="138.4" x2="244.9" y2="207.9" stroke="#b5b5b5" stroke-width="0.6"/>
<line x1="175.2" y1="207.9" x2="244.9" y2="207.9" stroke="#333" stroke-width="0.8"/>
<ellipse cx="203.2" cy="188.3" rx="20" ry="10.5" fill="url(#hz)" filter="url(#sp)"/>
<g transform="translate(197.7 186.3) rotate(-10)">
<ellipse cx="7.3" cy="0.2" rx="19.8" ry="6.5" fill="#8fa9e2" opacity="0.6" filter="url(#bl)"/>
<ellipse cx="6.0" cy="0.2" rx="16.8" ry="5.4" fill="#4f78d2" opacity="0.9" filter="url(#bl)"/>
<ellipse cx="4.9" cy="0.1" rx="13.4" ry="4.0" fill="#3a9ccf" opacity="1" filter="url(#bl2)"/>
<ellipse cx="3.6" cy="0.0" rx="11.5" ry="3.4" fill="#45c2b0" opacity="1" filter="url(#bl2)"/>
<ellipse cx="2.6" cy="0.0" rx="9.6" ry="2.8" fill="#6ccc5e" opacity="1" filter="url(#bl2)"/>
<ellipse cx="1.3" cy="0.0" rx="7.0" ry="2.0" fill="#d6da34" opacity="1" filter="url(#bl2)"/>
<ellipse cx="0.0" cy="0.0" rx="3.8" ry="1.2" fill="#f09a22" opacity="1" filter="url(#bl2)"/>
</g>
<rect x="175.20" y="138.40" width="67.70" height="41.00" fill="none" stroke="#3a3a3a" stroke-width="0.9"/>
<text x="209" y="133.8" font-size="10" text-anchor="middle" font-weight="normal" fill="#111" stroke="#111" stroke-width="0.22">Unstained</text>
<text x="240.70000000000002" y="146.4" font-size="8.4" text-anchor="end" font-weight="normal" fill="#262626" stroke="#262626" stroke-width="0.22">0.037</text>
<line x1="173.2" y1="144.20000000000002" x2="175.2" y2="144.20000000000002" stroke="#333" stroke-width="0.7"/>
<text x="171.79999999999998" y="145.20000000000002" font-size="2.2" text-anchor="end" font-weight="normal" fill="#555" stroke="#555" stroke-width="0.22">10</text>
<text x="171.79999999999998" y="143.8" font-size="1.5" text-anchor="start" font-weight="normal" fill="#555" stroke="#555" stroke-width="0.22">5</text>
<line x1="174.1" y1="154.0205285609211" x2="175.2" y2="154.0205285609211" stroke="#555" stroke-width="0.45"/>
<line x1="174.1" y1="151.54644637118878" x2="175.2" y2="151.54644637118878" stroke="#555" stroke-width="0.45"/>
<line x1="174.1" y1="149.79105712184216" x2="175.2" y2="149.79105712184216" stroke="#555" stroke-width="0.45"/>
<line x1="174.1" y1="148.42947143907895" x2="175.2" y2="148.42947143907895" stroke="#555" stroke-width="0.45"/>
<line x1="174.1" y1="147.31697493210984" x2="175.2" y2="147.31697493210984" stroke="#555" stroke-width="0.45"/>
<line x1="174.1" y1="146.3763725377997" x2="175.2" y2="146.3763725377997" stroke="#555" stroke-width="0.45"/>
<line x1="174.1" y1="145.56158568276322" x2="175.2" y2="145.56158568276322" stroke="#555" stroke-width="0.45"/>
<line x1="174.1" y1="144.8428927423775" x2="175.2" y2="144.8428927423775" stroke="#555" stroke-width="0.45"/>
<line x1="173.2" y1="158.25000000000003" x2="175.2" y2="158.25000000000003" stroke="#333" stroke-width="0.7"/>
<text x="171.79999999999998" y="159.25000000000003" font-size="2.2" text-anchor="end" font-weight="normal" fill="#555" stroke="#555" stroke-width="0.22">10</text>
<text x="171.79999999999998" y="157.85000000000002" font-size="1.5" text-anchor="start" font-weight="normal" fill="#555" stroke="#555" stroke-width="0.22">4</text>
<line x1="174.1" y1="168.0705285609211" x2="175.2" y2="168.0705285609211" stroke="#555" stroke-width="0.45"/>
<line x1="174.1" y1="165.5964463711888" x2="175.2" y2="165.5964463711888" stroke="#555" stroke-width="0.45"/>
<line x1="174.1" y1="163.84105712184217" x2="175.2" y2="163.84105712184217" stroke="#555" stroke-width="0.45"/>
<line x1="174.1" y1="162.47947143907896" x2="175.2" y2="162.47947143907896" stroke="#555" stroke-width="0.45"/>
<line x1="174.1" y1="161.36697493210985" x2="175.2" y2="161.36697493210985" stroke="#555" stroke-width="0.45"/>
<line x1="174.1" y1="160.42637253779972" x2="175.2" y2="160.42637253779972" stroke="#555" stroke-width="0.45"/>
<line x1="174.1" y1="159.61158568276323" x2="175.2" y2="159.61158568276323" stroke="#555" stroke-width="0.45"/>
<line x1="174.1" y1="158.8928927423775" x2="175.2" y2="158.8928927423775" stroke="#555" stroke-width="0.45"/>
<line x1="173.2" y1="172.3" x2="175.2" y2="172.3" stroke="#333" stroke-width="0.7"/>
<text x="171.79999999999998" y="173.3" font-size="2.2" text-anchor="end" font-weight="normal" fill="#555" stroke="#555" stroke-width="0.22">10</text>
<text x="171.79999999999998" y="171.9" font-size="1.5" text-anchor="start" font-weight="normal" fill="#555" stroke="#555" stroke-width="0.22">3</text>
<line x1="174.1" y1="182.1205285609211" x2="175.2" y2="182.1205285609211" stroke="#555" stroke-width="0.45"/>
<line x1="174.1" y1="179.64644637118877" x2="175.2" y2="179.64644637118877" stroke="#555" stroke-width="0.45"/>
<line x1="174.1" y1="177.89105712184215" x2="175.2" y2="177.89105712184215" stroke="#555" stroke-width="0.45"/>
<line x1="174.1" y1="176.52947143907895" x2="175.2" y2="176.52947143907895" stroke="#555" stroke-width="0.45"/>
<line x1="174.1" y1="175.41697493210984" x2="175.2" y2="175.41697493210984" stroke="#555" stroke-width="0.45"/>
<line x1="174.1" y1="174.4763725377997" x2="175.2" y2="174.4763725377997" stroke="#555" stroke-width="0.45"/>
<line x1="174.1" y1="173.66158568276322" x2="175.2" y2="173.66158568276322" stroke="#555" stroke-width="0.45"/>
<line x1="174.1" y1="172.9428927423775" x2="175.2" y2="172.9428927423775" stroke="#555" stroke-width="0.45"/>
<line x1="173.2" y1="186.35000000000002" x2="175.2" y2="186.35000000000002" stroke="#333" stroke-width="0.7"/>
<text x="171.79999999999998" y="187.35000000000002" font-size="2.2" text-anchor="end" font-weight="normal" fill="#555" stroke="#555" stroke-width="0.22">10</text>
<text x="171.79999999999998" y="185.95000000000002" font-size="1.5" text-anchor="start" font-weight="normal" fill="#555" stroke="#555" stroke-width="0.22">2</text>
<line x1="174.1" y1="196.1705285609211" x2="175.2" y2="196.1705285609211" stroke="#555" stroke-width="0.45"/>
<line x1="174.1" y1="193.69644637118878" x2="175.2" y2="193.69644637118878" stroke="#555" stroke-width="0.45"/>
<line x1="174.1" y1="191.94105712184216" x2="175.2" y2="191.94105712184216" stroke="#555" stroke-width="0.45"/>
<line x1="174.1" y1="190.57947143907896" x2="175.2" y2="190.57947143907896" stroke="#555" stroke-width="0.45"/>
<line x1="174.1" y1="189.46697493210985" x2="175.2" y2="189.46697493210985" stroke="#555" stroke-width="0.45"/>
<line x1="174.1" y1="188.52637253779972" x2="175.2" y2="188.52637253779972" stroke="#555" stroke-width="0.45"/>
<line x1="174.1" y1="187.71158568276323" x2="175.2" y2="187.71158568276323" stroke="#555" stroke-width="0.45"/>
<line x1="174.1" y1="186.9928927423775" x2="175.2" y2="186.9928927423775" stroke="#555" stroke-width="0.45"/>
<line x1="173.2" y1="200.40000000000003" x2="175.2" y2="200.40000000000003" stroke="#333" stroke-width="0.7"/>
<text x="171.79999999999998" y="201.40000000000003" font-size="2.2" text-anchor="end" font-weight="normal" fill="#555" stroke="#555" stroke-width="0.22">10</text>
<text x="171.79999999999998" y="200.00000000000003" font-size="1.5" text-anchor="start" font-weight="normal" fill="#555" stroke="#555" stroke-width="0.22">1</text>
<line x1="174.1" y1="205.99105712184218" x2="175.2" y2="205.99105712184218" stroke="#555" stroke-width="0.45"/>
<line x1="174.1" y1="204.62947143907897" x2="175.2" y2="204.62947143907897" stroke="#555" stroke-width="0.45"/>
<line x1="174.1" y1="203.51697493210986" x2="175.2" y2="203.51697493210986" stroke="#555" stroke-width="0.45"/>
<line x1="174.1" y1="202.57637253779973" x2="175.2" y2="202.57637253779973" stroke="#555" stroke-width="0.45"/>
<line x1="174.1" y1="201.76158568276324" x2="175.2" y2="201.76158568276324" stroke="#555" stroke-width="0.45"/>
<line x1="174.1" y1="201.04289274237752" x2="175.2" y2="201.04289274237752" stroke="#555" stroke-width="0.45"/>
<line x1="175.2" y1="207.9" x2="175.2" y2="209.8" stroke="#333" stroke-width="0.7"/>
<text x="175.2" y="212.6" font-size="2.1" text-anchor="middle" font-weight="normal" fill="#444" stroke="#444" stroke-width="0.22">0</text>
<line x1="177.83399999999997" y1="207.9" x2="177.83399999999997" y2="209.0" stroke="#444" stroke-width="0.5"/>
<line x1="180.468" y1="207.9" x2="180.468" y2="209.0" stroke="#444" stroke-width="0.5"/>
<line x1="183.10199999999998" y1="207.9" x2="183.10199999999998" y2="209.0" stroke="#444" stroke-width="0.5"/>
<line x1="185.736" y1="207.9" x2="185.736" y2="209.0" stroke="#444" stroke-width="0.5"/>
<line x1="188.36999999999998" y1="207.9" x2="188.36999999999998" y2="209.8" stroke="#333" stroke-width="0.7"/>
<text x="188.36999999999998" y="212.6" font-size="2.1" text-anchor="middle" font-weight="normal" fill="#444" stroke="#444" stroke-width="0.22">50K</text>
<line x1="191.00399999999996" y1="207.9" x2="191.00399999999996" y2="209.0" stroke="#444" stroke-width="0.5"/>
<line x1="193.63799999999998" y1="207.9" x2="193.63799999999998" y2="209.0" stroke="#444" stroke-width="0.5"/>
<line x1="196.27199999999996" y1="207.9" x2="196.27199999999996" y2="209.0" stroke="#444" stroke-width="0.5"/>
<line x1="198.90599999999998" y1="207.9" x2="198.90599999999998" y2="209.0" stroke="#444" stroke-width="0.5"/>
<line x1="201.54" y1="207.9" x2="201.54" y2="209.8" stroke="#333" stroke-width="0.7"/>
<text x="201.54" y="212.6" font-size="2.1" text-anchor="middle" font-weight="normal" fill="#444" stroke="#444" stroke-width="0.22">100K</text>
<line x1="204.17399999999998" y1="207.9" x2="204.17399999999998" y2="209.0" stroke="#444" stroke-width="0.5"/>
<line x1="206.808" y1="207.9" x2="206.808" y2="209.0" stroke="#444" stroke-width="0.5"/>
<line x1="209.44199999999998" y1="207.9" x2="209.44199999999998" y2="209.0" stroke="#444" stroke-width="0.5"/>
<line x1="212.076" y1="207.9" x2="212.076" y2="209.0" stroke="#444" stroke-width="0.5"/>
<line x1="214.70999999999998" y1="207.9" x2="214.70999999999998" y2="209.8" stroke="#333" stroke-width="0.7"/>
<text x="214.70999999999998" y="212.6" font-size="2.1" text-anchor="middle" font-weight="normal" fill="#444" stroke="#444" stroke-width="0.22">150K</text>
<line x1="217.34399999999997" y1="207.9" x2="217.34399999999997" y2="209.0" stroke="#444" stroke-width="0.5"/>
<line x1="219.97799999999998" y1="207.9" x2="219.97799999999998" y2="209.0" stroke="#444" stroke-width="0.5"/>
<line x1="222.61199999999997" y1="207.9" x2="222.61199999999997" y2="209.0" stroke="#444" stroke-width="0.5"/>
<line x1="225.24599999999998" y1="207.9" x2="225.24599999999998" y2="209.0" stroke="#444" stroke-width="0.5"/>
<line x1="227.88" y1="207.9" x2="227.88" y2="209.8" stroke="#333" stroke-width="0.7"/>
<text x="227.88" y="212.6" font-size="2.1" text-anchor="middle" font-weight="normal" fill="#444" stroke="#444" stroke-width="0.22">200K</text>
<line x1="230.51399999999998" y1="207.9" x2="230.51399999999998" y2="209.0" stroke="#444" stroke-width="0.5"/>
<line x1="233.148" y1="207.9" x2="233.148" y2="209.0" stroke="#444" stroke-width="0.5"/>
<line x1="235.78199999999998" y1="207.9" x2="235.78199999999998" y2="209.0" stroke="#444" stroke-width="0.5"/>
<line x1="238.416" y1="207.9" x2="238.416" y2="209.0" stroke="#444" stroke-width="0.5"/>
<line x1="241.04999999999998" y1="207.9" x2="241.04999999999998" y2="209.8" stroke="#333" stroke-width="0.7"/>
<text x="241.04999999999998" y="212.6" font-size="2.1" text-anchor="middle" font-weight="normal" fill="#444" stroke="#444" stroke-width="0.22">250K</text>
<line x1="243.68399999999997" y1="207.9" x2="243.68399999999997" y2="209.0" stroke="#444" stroke-width="0.5"/>
<line x1="263.7" y1="138.4" x2="263.7" y2="207.9" stroke="#999" stroke-width="0.6"/>
<line x1="333.5" y1="138.4" x2="333.5" y2="207.9" stroke="#b5b5b5" stroke-width="0.6"/>
<line x1="263.7" y1="207.9" x2="333.5" y2="207.9" stroke="#333" stroke-width="0.8"/>
<ellipse cx="289.9" cy="177.7" rx="20" ry="13" fill="url(#hz)" filter="url(#sp)"/>
<g transform="translate(286.4 178.2) rotate(-9)">
<ellipse cx="2.8" cy="0.2" rx="15.7" ry="8.7" fill="#8fa9e2" opacity="0.6" filter="url(#bl)"/>
<ellipse cx="2.3" cy="0.2" rx="13.3" ry="7.4" fill="#4f78d2" opacity="0.9" filter="url(#bl)"/>
<ellipse cx="1.9" cy="0.1" rx="10.6" ry="5.4" fill="#3a9ccf" opacity="1" filter="url(#bl2)"/>
<ellipse cx="1.4" cy="0.0" rx="9.1" ry="4.6" fill="#45c2b0" opacity="1" filter="url(#bl2)"/>
<ellipse cx="1.0" cy="0.0" rx="7.6" ry="3.8" fill="#6ccc5e" opacity="1" filter="url(#bl2)"/>
<ellipse cx="0.5" cy="0.0" rx="5.5" ry="2.8" fill="#d6da34" opacity="1" filter="url(#bl2)"/>
<ellipse cx="0.0" cy="0.0" rx="3.0" ry="1.6" fill="#f09a22" opacity="1" filter="url(#bl2)"/>
</g>
<rect x="263.70" y="138.40" width="67.80" height="41.00" fill="none" stroke="#3a3a3a" stroke-width="0.9"/>
<text x="297.7" y="133.8" font-size="10" text-anchor="middle" font-weight="normal" fill="#111" stroke="#111" stroke-width="0.22">BAFF Alone</text>
<text x="329.3" y="146.4" font-size="8.4" text-anchor="end" font-weight="normal" fill="#262626" stroke="#262626" stroke-width="0.22">63.0</text>
<line x1="261.7" y1="144.20000000000002" x2="263.7" y2="144.20000000000002" stroke="#333" stroke-width="0.7"/>
<text x="260.3" y="145.20000000000002" font-size="2.2" text-anchor="end" font-weight="normal" fill="#555" stroke="#555" stroke-width="0.22">10</text>
<text x="260.3" y="143.8" font-size="1.5" text-anchor="start" font-weight="normal" fill="#555" stroke="#555" stroke-width="0.22">5</text>
<line x1="262.59999999999997" y1="154.0205285609211" x2="263.7" y2="154.0205285609211" stroke="#555" stroke-width="0.45"/>
<line x1="262.59999999999997" y1="151.54644637118878" x2="263.7" y2="151.54644637118878" stroke="#555" stroke-width="0.45"/>
<line x1="262.59999999999997" y1="149.79105712184216" x2="263.7" y2="149.79105712184216" stroke="#555" stroke-width="0.45"/>
<line x1="262.59999999999997" y1="148.42947143907895" x2="263.7" y2="148.42947143907895" stroke="#555" stroke-width="0.45"/>
<line x1="262.59999999999997" y1="147.31697493210984" x2="263.7" y2="147.31697493210984" stroke="#555" stroke-width="0.45"/>
<line x1="262.59999999999997" y1="146.3763725377997" x2="263.7" y2="146.3763725377997" stroke="#555" stroke-width="0.45"/>
<line x1="262.59999999999997" y1="145.56158568276322" x2="263.7" y2="145.56158568276322" stroke="#555" stroke-width="0.45"/>
<line x1="262.59999999999997" y1="144.8428927423775" x2="263.7" y2="144.8428927423775" stroke="#555" stroke-width="0.45"/>
<line x1="261.7" y1="158.25000000000003" x2="263.7" y2="158.25000000000003" stroke="#333" stroke-width="0.7"/>
<text x="260.3" y="159.25000000000003" font-size="2.2" text-anchor="end" font-weight="normal" fill="#555" stroke="#555" stroke-width="0.22">10</text>
<text x="260.3" y="157.85000000000002" font-size="1.5" text-anchor="start" font-weight="normal" fill="#555" stroke="#555" stroke-width="0.22">4</text>
<line x1="262.59999999999997" y1="168.0705285609211" x2="263.7" y2="168.0705285609211" stroke="#555" stroke-width="0.45"/>
<line x1="262.59999999999997" y1="165.5964463711888" x2="263.7" y2="165.5964463711888" stroke="#555" stroke-width="0.45"/>
<line x1="262.59999999999997" y1="163.84105712184217" x2="263.7" y2="163.84105712184217" stroke="#555" stroke-width="0.45"/>
<line x1="262.59999999999997" y1="162.47947143907896" x2="263.7" y2="162.47947143907896" stroke="#555" stroke-width="0.45"/>
<line x1="262.59999999999997" y1="161.36697493210985" x2="263.7" y2="161.36697493210985" stroke="#555" stroke-width="0.45"/>
<line x1="262.59999999999997" y1="160.42637253779972" x2="263.7" y2="160.42637253779972" stroke="#555" stroke-width="0.45"/>
<line x1="262.59999999999997" y1="159.61158568276323" x2="263.7" y2="159.61158568276323" stroke="#555" stroke-width="0.45"/>
<line x1="262.59999999999997" y1="158.8928927423775" x2="263.7" y2="158.8928927423775" stroke="#555" stroke-width="0.45"/>
<line x1="261.7" y1="172.3" x2="263.7" y2="172.3" stroke="#333" stroke-width="0.7"/>
<text x="260.3" y="173.3" font-size="2.2" text-anchor="end" font-weight="normal" fill="#555" stroke="#555" stroke-width="0.22">10</text>
<text x="260.3" y="171.9" font-size="1.5" text-anchor="start" font-weight="normal" fill="#555" stroke="#555" stroke-width="0.22">3</text>
<line x1="262.59999999999997" y1="182.1205285609211" x2="263.7" y2="182.1205285609211" stroke="#555" stroke-width="0.45"/>
<line x1="262.59999999999997" y1="179.64644637118877" x2="263.7" y2="179.64644637118877" stroke="#555" stroke-width="0.45"/>
<line x1="262.59999999999997" y1="177.89105712184215" x2="263.7" y2="177.89105712184215" stroke="#555" stroke-width="0.45"/>
<line x1="262.59999999999997" y1="176.52947143907895" x2="263.7" y2="176.52947143907895" stroke="#555" stroke-width="0.45"/>
<line x1="262.59999999999997" y1="175.41697493210984" x2="263.7" y2="175.41697493210984" stroke="#555" stroke-width="0.45"/>
<line x1="262.59999999999997" y1="174.4763725377997" x2="263.7" y2="174.4763725377997" stroke="#555" stroke-width="0.45"/>
<line x1="262.59999999999997" y1="173.66158568276322" x2="263.7" y2="173.66158568276322" stroke="#555" stroke-width="0.45"/>
<line x1="262.59999999999997" y1="172.9428927423775" x2="263.7" y2="172.9428927423775" stroke="#555" stroke-width="0.45"/>
<line x1="261.7" y1="186.35000000000002" x2="263.7" y2="186.35000000000002" stroke="#333" stroke-width="0.7"/>
<text x="260.3" y="187.35000000000002" font-size="2.2" text-anchor="end" font-weight="normal" fill="#555" stroke="#555" stroke-width="0.22">10</text>
<text x="260.3" y="185.95000000000002" font-size="1.5" text-anchor="start" font-weight="normal" fill="#555" stroke="#555" stroke-width="0.22">2</text>
<line x1="262.59999999999997" y1="196.1705285609211" x2="263.7" y2="196.1705285609211" stroke="#555" stroke-width="0.45"/>
<line x1="262.59999999999997" y1="193.69644637118878" x2="263.7" y2="193.69644637118878" stroke="#555" stroke-width="0.45"/>
<line x1="262.59999999999997" y1="191.94105712184216" x2="263.7" y2="191.94105712184216" stroke="#555" stroke-width="0.45"/>
<line x1="262.59999999999997" y1="190.57947143907896" x2="263.7" y2="190.57947143907896" stroke="#555" stroke-width="0.45"/>
<line x1="262.59999999999997" y1="189.46697493210985" x2="263.7" y2="189.46697493210985" stroke="#555" stroke-width="0.45"/>
<line x1="262.59999999999997" y1="188.52637253779972" x2="263.7" y2="188.52637253779972" stroke="#555" stroke-width="0.45"/>
<line x1="262.59999999999997" y1="187.71158568276323" x2="263.7" y2="187.71158568276323" stroke="#555" stroke-width="0.45"/>
<line x1="262.59999999999997" y1="186.9928927423775" x2="263.7" y2="186.9928927423775" stroke="#555" stroke-width="0.45"/>
<line x1="261.7" y1="200.40000000000003" x2="263.7" y2="200.40000000000003" stroke="#333" stroke-width="0.7"/>
<text x="260.3" y="201.40000000000003" font-size="2.2" text-anchor="end" font-weight="normal" fill="#555" stroke="#555" stroke-width="0.22">10</text>
<text x="260.3" y="200.00000000000003" font-size="1.5" text-anchor="start" font-weight="normal" fill="#555" stroke="#555" stroke-width="0.22">1</text>
<line x1="262.59999999999997" y1="205.99105712184218" x2="263.7" y2="205.99105712184218" stroke="#555" stroke-width="0.45"/>
<line x1="262.59999999999997" y1="204.62947143907897" x2="263.7" y2="204.62947143907897" stroke="#555" stroke-width="0.45"/>
<line x1="262.59999999999997" y1="203.51697493210986" x2="263.7" y2="203.51697493210986" stroke="#555" stroke-width="0.45"/>
<line x1="262.59999999999997" y1="202.57637253779973" x2="263.7" y2="202.57637253779973" stroke="#555" stroke-width="0.45"/>
<line x1="262.59999999999997" y1="201.76158568276324" x2="263.7" y2="201.76158568276324" stroke="#555" stroke-width="0.45"/>
<line x1="262.59999999999997" y1="201.04289274237752" x2="263.7" y2="201.04289274237752" stroke="#555" stroke-width="0.45"/>
<line x1="263.7" y1="207.9" x2="263.7" y2="209.8" stroke="#333" stroke-width="0.7"/>
<text x="263.7" y="212.6" font-size="2.1" text-anchor="middle" font-weight="normal" fill="#444" stroke="#444" stroke-width="0.22">0</text>
<line x1="266.334" y1="207.9" x2="266.334" y2="209.0" stroke="#444" stroke-width="0.5"/>
<line x1="268.96799999999996" y1="207.9" x2="268.96799999999996" y2="209.0" stroke="#444" stroke-width="0.5"/>
<line x1="271.602" y1="207.9" x2="271.602" y2="209.0" stroke="#444" stroke-width="0.5"/>
<line x1="274.236" y1="207.9" x2="274.236" y2="209.0" stroke="#444" stroke-width="0.5"/>
<line x1="276.87" y1="207.9" x2="276.87" y2="209.8" stroke="#333" stroke-width="0.7"/>
<text x="276.87" y="212.6" font-size="2.1" text-anchor="middle" font-weight="normal" fill="#444" stroke="#444" stroke-width="0.22">50K</text>
<line x1="279.504" y1="207.9" x2="279.504" y2="209.0" stroke="#444" stroke-width="0.5"/>
<line x1="282.138" y1="207.9" x2="282.138" y2="209.0" stroke="#444" stroke-width="0.5"/>
<line x1="284.772" y1="207.9" x2="284.772" y2="209.0" stroke="#444" stroke-width="0.5"/>
<line x1="287.406" y1="207.9" x2="287.406" y2="209.0" stroke="#444" stroke-width="0.5"/>
<line x1="290.03999999999996" y1="207.9" x2="290.03999999999996" y2="209.8" stroke="#333" stroke-width="0.7"/>
<text x="290.03999999999996" y="212.6" font-size="2.1" text-anchor="middle" font-weight="normal" fill="#444" stroke="#444" stroke-width="0.22">100K</text>
<line x1="292.674" y1="207.9" x2="292.674" y2="209.0" stroke="#444" stroke-width="0.5"/>
<line x1="295.30799999999994" y1="207.9" x2="295.30799999999994" y2="209.0" stroke="#444" stroke-width="0.5"/>
<line x1="297.94199999999995" y1="207.9" x2="297.94199999999995" y2="209.0" stroke="#444" stroke-width="0.5"/>
<line x1="300.57599999999996" y1="207.9" x2="300.57599999999996" y2="209.0" stroke="#444" stroke-width="0.5"/>
<line x1="303.21" y1="207.9" x2="303.21" y2="209.8" stroke="#333" stroke-width="0.7"/>
<text x="303.21" y="212.6" font-size="2.1" text-anchor="middle" font-weight="normal" fill="#444" stroke="#444" stroke-width="0.22">150K</text>
<line x1="305.844" y1="207.9" x2="305.844" y2="209.0" stroke="#444" stroke-width="0.5"/>
<line x1="308.47799999999995" y1="207.9" x2="308.47799999999995" y2="209.0" stroke="#444" stroke-width="0.5"/>
<line x1="311.11199999999997" y1="207.9" x2="311.11199999999997" y2="209.0" stroke="#444" stroke-width="0.5"/>
<line x1="313.746" y1="207.9" x2="313.746" y2="209.0" stroke="#444" stroke-width="0.5"/>
<line x1="316.38" y1="207.9" x2="316.38" y2="209.8" stroke="#333" stroke-width="0.7"/>
<text x="316.38" y="212.6" font-size="2.1" text-anchor="middle" font-weight="normal" fill="#444" stroke="#444" stroke-width="0.22">200K</text>
<line x1="319.014" y1="207.9" x2="319.014" y2="209.0" stroke="#444" stroke-width="0.5"/>
<line x1="321.64799999999997" y1="207.9" x2="321.64799999999997" y2="209.0" stroke="#444" stroke-width="0.5"/>
<line x1="324.282" y1="207.9" x2="324.282" y2="209.0" stroke="#444" stroke-width="0.5"/>
<line x1="326.916" y1="207.9" x2="326.916" y2="209.0" stroke="#444" stroke-width="0.5"/>
<line x1="329.54999999999995" y1="207.9" x2="329.54999999999995" y2="209.8" stroke="#333" stroke-width="0.7"/>
<text x="329.54999999999995" y="212.6" font-size="2.1" text-anchor="middle" font-weight="normal" fill="#444" stroke="#444" stroke-width="0.22">250K</text>
<line x1="332.18399999999997" y1="207.9" x2="332.18399999999997" y2="209.0" stroke="#444" stroke-width="0.5"/>
<line x1="353.1" y1="138.4" x2="353.1" y2="207.9" stroke="#999" stroke-width="0.6"/>
<line x1="422.7" y1="138.4" x2="422.7" y2="207.9" stroke="#b5b5b5" stroke-width="0.6"/>
<line x1="353.1" y1="207.9" x2="422.7" y2="207.9" stroke="#333" stroke-width="0.8"/>
<ellipse cx="379.1" cy="178.2" rx="20" ry="13" fill="url(#hz)" filter="url(#sp)"/>
<g transform="translate(375.6 178.7) rotate(-8)">
<ellipse cx="2.8" cy="0.2" rx="15.7" ry="8.7" fill="#8fa9e2" opacity="0.6" filter="url(#bl)"/>
<ellipse cx="2.3" cy="0.2" rx="13.3" ry="7.4" fill="#4f78d2" opacity="0.9" filter="url(#bl)"/>
<ellipse cx="1.9" cy="0.1" rx="10.6" ry="5.4" fill="#3a9ccf" opacity="1" filter="url(#bl2)"/>
<ellipse cx="1.4" cy="0.0" rx="9.1" ry="4.6" fill="#45c2b0" opacity="1" filter="url(#bl2)"/>
<ellipse cx="1.0" cy="0.0" rx="7.6" ry="3.8" fill="#6ccc5e" opacity="1" filter="url(#bl2)"/>
<ellipse cx="0.5" cy="0.0" rx="5.5" ry="2.8" fill="#d6da34" opacity="1" filter="url(#bl2)"/>
<ellipse cx="0.0" cy="0.0" rx="3.0" ry="1.6" fill="#f09a22" opacity="1" filter="url(#bl2)"/>
</g>
<rect x="353.10" y="138.40" width="67.60" height="41.00" fill="none" stroke="#3a3a3a" stroke-width="0.9"/>
<text x="387.5" y="133.8" font-size="10" text-anchor="middle" font-weight="normal" fill="#111" stroke="#111" stroke-width="0.22">+1.6 ng C90</text>
<text x="418.5" y="146.4" font-size="8.4" text-anchor="end" font-weight="normal" fill="#262626" stroke="#262626" stroke-width="0.22">60.3</text>
<line x1="351.1" y1="144.20000000000002" x2="353.1" y2="144.20000000000002" stroke="#333" stroke-width="0.7"/>
<text x="349.70000000000005" y="145.20000000000002" font-size="2.2" text-anchor="end" font-weight="normal" fill="#555" stroke="#555" stroke-width="0.22">10</text>
<text x="349.70000000000005" y="143.8" font-size="1.5" text-anchor="start" font-weight="normal" fill="#555" stroke="#555" stroke-width="0.22">5</text>
<line x1="352.0" y1="154.0205285609211" x2="353.1" y2="154.0205285609211" stroke="#555" stroke-width="0.45"/>
<line x1="352.0" y1="151.54644637118878" x2="353.1" y2="151.54644637118878" stroke="#555" stroke-width="0.45"/>
<line x1="352.0" y1="149.79105712184216" x2="353.1" y2="149.79105712184216" stroke="#555" stroke-width="0.45"/>
<line x1="352.0" y1="148.42947143907895" x2="353.1" y2="148.42947143907895" stroke="#555" stroke-width="0.45"/>
<line x1="352.0" y1="147.31697493210984" x2="353.1" y2="147.31697493210984" stroke="#555" stroke-width="0.45"/>
<line x1="352.0" y1="146.3763725377997" x2="353.1" y2="146.3763725377997" stroke="#555" stroke-width="0.45"/>
<line x1="352.0" y1="145.56158568276322" x2="353.1" y2="145.56158568276322" stroke="#555" stroke-width="0.45"/>
<line x1="352.0" y1="144.8428927423775" x2="353.1" y2="144.8428927423775" stroke="#555" stroke-width="0.45"/>
<line x1="351.1" y1="158.25000000000003" x2="353.1" y2="158.25000000000003" stroke="#333" stroke-width="0.7"/>
<text x="349.70000000000005" y="159.25000000000003" font-size="2.2" text-anchor="end" font-weight="normal" fill="#555" stroke="#555" stroke-width="0.22">10</text>
<text x="349.70000000000005" y="157.85000000000002" font-size="1.5" text-anchor="start" font-weight="normal" fill="#555" stroke="#555" stroke-width="0.22">4</text>
<line x1="352.0" y1="168.0705285609211" x2="353.1" y2="168.0705285609211" stroke="#555" stroke-width="0.45"/>
<line x1="352.0" y1="165.5964463711888" x2="353.1" y2="165.5964463711888" stroke="#555" stroke-width="0.45"/>
<line x1="352.0" y1="163.84105712184217" x2="353.1" y2="163.84105712184217" stroke="#555" stroke-width="0.45"/>
<line x1="352.0" y1="162.47947143907896" x2="353.1" y2="162.47947143907896" stroke="#555" stroke-width="0.45"/>
<line x1="352.0" y1="161.36697493210985" x2="353.1" y2="161.36697493210985" stroke="#555" stroke-width="0.45"/>
<line x1="352.0" y1="160.42637253779972" x2="353.1" y2="160.42637253779972" stroke="#555" stroke-width="0.45"/>
<line x1="352.0" y1="159.61158568276323" x2="353.1" y2="159.61158568276323" stroke="#555" stroke-width="0.45"/>
<line x1="352.0" y1="158.8928927423775" x2="353.1" y2="158.8928927423775" stroke="#555" stroke-width="0.45"/>
<line x1="351.1" y1="172.3" x2="353.1" y2="172.3" stroke="#333" stroke-width="0.7"/>
<text x="349.70000000000005" y="173.3" font-size="2.2" text-anchor="end" font-weight="normal" fill="#555" stroke="#555" stroke-width="0.22">10</text>
<text x="349.70000000000005" y="171.9" font-size="1.5" text-anchor="start" font-weight="normal" fill="#555" stroke="#555" stroke-width="0.22">3</text>
<line x1="352.0" y1="182.1205285609211" x2="353.1" y2="182.1205285609211" stroke="#555" stroke-width="0.45"/>
<line x1="352.0" y1="179.64644637118877" x2="353.1" y2="179.64644637118877" stroke="#555" stroke-width="0.45"/>
<line x1="352.0" y1="177.89105712184215" x2="353.1" y2="177.89105712184215" stroke="#555" stroke-width="0.45"/>
<line x1="352.0" y1="176.52947143907895" x2="353.1" y2="176.52947143907895" stroke="#555" stroke-width="0.45"/>
<line x1="352.0" y1="175.41697493210984" x2="353.1" y2="175.41697493210984" stroke="#555" stroke-width="0.45"/>
<line x1="352.0" y1="174.4763725377997" x2="353.1" y2="174.4763725377997" stroke="#555" stroke-width="0.45"/>
<line x1="352.0" y1="173.66158568276322" x2="353.1" y2="173.66158568276322" stroke="#555" stroke-width="0.45"/>
<line x1="352.0" y1="172.9428927423775" x2="353.1" y2="172.9428927423775" stroke="#555" stroke-width="0.45"/>
<line x1="351.1" y1="186.35000000000002" x2="353.1" y2="186.35000000000002" stroke="#333" stroke-width="0.7"/>
<text x="349.70000000000005" y="187.35000000000002" font-size="2.2" text-anchor="end" font-weight="normal" fill="#555" stroke="#555" stroke-width="0.22">10</text>
<text x="349.70000000000005" y="185.95000000000002" font-size="1.5" text-anchor="start" font-weight="normal" fill="#555" stroke="#555" stroke-width="0.22">2</text>
<line x1="352.0" y1="196.1705285609211" x2="353.1" y2="196.1705285609211" stroke="#555" stroke-width="0.45"/>
<line x1="352.0" y1="193.69644637118878" x2="353.1" y2="193.69644637118878" stroke="#555" stroke-width="0.45"/>
<line x1="352.0" y1="191.94105712184216" x2="353.1" y2="191.94105712184216" stroke="#555" stroke-width="0.45"/>
<line x1="352.0" y1="190.57947143907896" x2="353.1" y2="190.57947143907896" stroke="#555" stroke-width="0.45"/>
<line x1="352.0" y1="189.46697493210985" x2="353.1" y2="189.46697493210985" stroke="#555" stroke-width="0.45"/>
<line x1="352.0" y1="188.52637253779972" x2="353.1" y2="188.52637253779972" stroke="#555" stroke-width="0.45"/>
<line x1="352.0" y1="187.71158568276323" x2="353.1" y2="187.71158568276323" stroke="#555" stroke-width="0.45"/>
<line x1="352.0" y1="186.9928927423775" x2="353.1" y2="186.9928927423775" stroke="#555" stroke-width="0.45"/>
<line x1="351.1" y1="200.40000000000003" x2="353.1" y2="200.40000000000003" stroke="#333" stroke-width="0.7"/>
<text x="349.70000000000005" y="201.40000000000003" font-size="2.2" text-anchor="end" font-weight="normal" fill="#555" stroke="#555" stroke-width="0.22">10</text>
<text x="349.70000000000005" y="200.00000000000003" font-size="1.5" text-anchor="start" font-weight="normal" fill="#555" stroke="#555" stroke-width="0.22">1</text>
<line x1="352.0" y1="205.99105712184218" x2="353.1" y2="205.99105712184218" stroke="#555" stroke-width="0.45"/>
<line x1="352.0" y1="204.62947143907897" x2="353.1" y2="204.62947143907897" stroke="#555" stroke-width="0.45"/>
<line x1="352.0" y1="203.51697493210986" x2="353.1" y2="203.51697493210986" stroke="#555" stroke-width="0.45"/>
<line x1="352.0" y1="202.57637253779973" x2="353.1" y2="202.57637253779973" stroke="#555" stroke-width="0.45"/>
<line x1="352.0" y1="201.76158568276324" x2="353.1" y2="201.76158568276324" stroke="#555" stroke-width="0.45"/>
<line x1="352.0" y1="201.04289274237752" x2="353.1" y2="201.04289274237752" stroke="#555" stroke-width="0.45"/>
<line x1="353.1" y1="207.9" x2="353.1" y2="209.8" stroke="#333" stroke-width="0.7"/>
<text x="353.1" y="212.6" font-size="2.1" text-anchor="middle" font-weight="normal" fill="#444" stroke="#444" stroke-width="0.22">0</text>
<line x1="355.73400000000004" y1="207.9" x2="355.73400000000004" y2="209.0" stroke="#444" stroke-width="0.5"/>
<line x1="358.368" y1="207.9" x2="358.368" y2="209.0" stroke="#444" stroke-width="0.5"/>
<line x1="361.002" y1="207.9" x2="361.002" y2="209.0" stroke="#444" stroke-width="0.5"/>
<line x1="363.636" y1="207.9" x2="363.636" y2="209.0" stroke="#444" stroke-width="0.5"/>
<line x1="366.27000000000004" y1="207.9" x2="366.27000000000004" y2="209.8" stroke="#333" stroke-width="0.7"/>
<text x="366.27000000000004" y="212.6" font-size="2.1" text-anchor="middle" font-weight="normal" fill="#444" stroke="#444" stroke-width="0.22">50K</text>
<line x1="368.90400000000005" y1="207.9" x2="368.90400000000005" y2="209.0" stroke="#444" stroke-width="0.5"/>
<line x1="371.538" y1="207.9" x2="371.538" y2="209.0" stroke="#444" stroke-width="0.5"/>
<line x1="374.172" y1="207.9" x2="374.172" y2="209.0" stroke="#444" stroke-width="0.5"/>
<line x1="376.80600000000004" y1="207.9" x2="376.80600000000004" y2="209.0" stroke="#444" stroke-width="0.5"/>
<line x1="379.44" y1="207.9" x2="379.44" y2="209.8" stroke="#333" stroke-width="0.7"/>
<text x="379.44" y="212.6" font-size="2.1" text-anchor="middle" font-weight="normal" fill="#444" stroke="#444" stroke-width="0.22">100K</text>
<line x1="382.074" y1="207.9" x2="382.074" y2="209.0" stroke="#444" stroke-width="0.5"/>
<line x1="384.70799999999997" y1="207.9" x2="384.70799999999997" y2="209.0" stroke="#444" stroke-width="0.5"/>
<line x1="387.342" y1="207.9" x2="387.342" y2="209.0" stroke="#444" stroke-width="0.5"/>
<line x1="389.976" y1="207.9" x2="389.976" y2="209.0" stroke="#444" stroke-width="0.5"/>
<line x1="392.61" y1="207.9" x2="392.61" y2="209.8" stroke="#333" stroke-width="0.7"/>
<text x="392.61" y="212.6" font-size="2.1" text-anchor="middle" font-weight="normal" fill="#444" stroke="#444" stroke-width="0.22">150K</text>
<line x1="395.244" y1="207.9" x2="395.244" y2="209.0" stroke="#444" stroke-width="0.5"/>
<line x1="397.878" y1="207.9" x2="397.878" y2="209.0" stroke="#444" stroke-width="0.5"/>
<line x1="400.512" y1="207.9" x2="400.512" y2="209.0" stroke="#444" stroke-width="0.5"/>
<line x1="403.146" y1="207.9" x2="403.146" y2="209.0" stroke="#444" stroke-width="0.5"/>
<line x1="405.78000000000003" y1="207.9" x2="405.78000000000003" y2="209.8" stroke="#333" stroke-width="0.7"/>
<text x="405.78000000000003" y="212.6" font-size="2.1" text-anchor="middle" font-weight="normal" fill="#444" stroke="#444" stroke-width="0.22">200K</text>
<line x1="408.41400000000004" y1="207.9" x2="408.41400000000004" y2="209.0" stroke="#444" stroke-width="0.5"/>
<line x1="411.048" y1="207.9" x2="411.048" y2="209.0" stroke="#444" stroke-width="0.5"/>
<line x1="413.682" y1="207.9" x2="413.682" y2="209.0" stroke="#444" stroke-width="0.5"/>
<line x1="416.31600000000003" y1="207.9" x2="416.31600000000003" y2="209.0" stroke="#444" stroke-width="0.5"/>
<line x1="418.95000000000005" y1="207.9" x2="418.95000000000005" y2="209.8" stroke="#333" stroke-width="0.7"/>
<text x="418.95000000000005" y="212.6" font-size="2.1" text-anchor="middle" font-weight="normal" fill="#444" stroke="#444" stroke-width="0.22">250K</text>
<line x1="421.58400000000006" y1="207.9" x2="421.58400000000006" y2="209.0" stroke="#444" stroke-width="0.5"/>
<line x1="442.2" y1="138.4" x2="442.2" y2="207.9" stroke="#999" stroke-width="0.6"/>
<line x1="511.9" y1="138.4" x2="511.9" y2="207.9" stroke="#b5b5b5" stroke-width="0.6"/>
<line x1="442.2" y1="207.9" x2="511.9" y2="207.9" stroke="#333" stroke-width="0.8"/>
<ellipse cx="467.7" cy="178.5" rx="20" ry="13" fill="url(#hz)" filter="url(#sp)"/>
<g transform="translate(464.2 179) rotate(-8)">
<ellipse cx="2.8" cy="0.2" rx="15.7" ry="8.7" fill="#8fa9e2" opacity="0.6" filter="url(#bl)"/>
<ellipse cx="2.3" cy="0.2" rx="13.3" ry="7.4" fill="#4f78d2" opacity="0.9" filter="url(#bl)"/>
<ellipse cx="1.9" cy="0.1" rx="10.6" ry="5.4" fill="#3a9ccf" opacity="1" filter="url(#bl2)"/>
<ellipse cx="1.4" cy="0.0" rx="9.1" ry="4.6" fill="#45c2b0" opacity="1" filter="url(#bl2)"/>
<ellipse cx="1.0" cy="0.0" rx="7.6" ry="3.8" fill="#6ccc5e" opacity="1" filter="url(#bl2)"/>
<ellipse cx="0.5" cy="0.0" rx="5.5" ry="2.8" fill="#d6da34" opacity="1" filter="url(#bl2)"/>
<ellipse cx="0.0" cy="0.0" rx="3.0" ry="1.6" fill="#f09a22" opacity="1" filter="url(#bl2)"/>
</g>
<rect x="442.20" y="138.40" width="67.70" height="41.00" fill="none" stroke="#3a3a3a" stroke-width="0.9"/>
<text x="476" y="133.8" font-size="10" text-anchor="middle" font-weight="normal" fill="#111" stroke="#111" stroke-width="0.22">+8.0 ng C90</text>
<text x="507.7" y="146.4" font-size="8.4" text-anchor="end" font-weight="normal" fill="#262626" stroke="#262626" stroke-width="0.22">51.9</text>
<line x1="440.2" y1="144.20000000000002" x2="442.2" y2="144.20000000000002" stroke="#333" stroke-width="0.7"/>
<text x="438.8" y="145.20000000000002" font-size="2.2" text-anchor="end" font-weight="normal" fill="#555" stroke="#555" stroke-width="0.22">10</text>
<text x="438.8" y="143.8" font-size="1.5" text-anchor="start" font-weight="normal" fill="#555" stroke="#555" stroke-width="0.22">5</text>
<line x1="441.09999999999997" y1="154.0205285609211" x2="442.2" y2="154.0205285609211" stroke="#555" stroke-width="0.45"/>
<line x1="441.09999999999997" y1="151.54644637118878" x2="442.2" y2="151.54644637118878" stroke="#555" stroke-width="0.45"/>
<line x1="441.09999999999997" y1="149.79105712184216" x2="442.2" y2="149.79105712184216" stroke="#555" stroke-width="0.45"/>
<line x1="441.09999999999997" y1="148.42947143907895" x2="442.2" y2="148.42947143907895" stroke="#555" stroke-width="0.45"/>
<line x1="441.09999999999997" y1="147.31697493210984" x2="442.2" y2="147.31697493210984" stroke="#555" stroke-width="0.45"/>
<line x1="441.09999999999997" y1="146.3763725377997" x2="442.2" y2="146.3763725377997" stroke="#555" stroke-width="0.45"/>
<line x1="441.09999999999997" y1="145.56158568276322" x2="442.2" y2="145.56158568276322" stroke="#555" stroke-width="0.45"/>
<line x1="441.09999999999997" y1="144.8428927423775" x2="442.2" y2="144.8428927423775" stroke="#555" stroke-width="0.45"/>
<line x1="440.2" y1="158.25000000000003" x2="442.2" y2="158.25000000000003" stroke="#333" stroke-width="0.7"/>
<text x="438.8" y="159.25000000000003" font-size="2.2" text-anchor="end" font-weight="normal" fill="#555" stroke="#555" stroke-width="0.22">10</text>
<text x="438.8" y="157.85000000000002" font-size="1.5" text-anchor="start" font-weight="normal" fill="#555" stroke="#555" stroke-width="0.22">4</text>
<line x1="441.09999999999997" y1="168.0705285609211" x2="442.2" y2="168.0705285609211" stroke="#555" stroke-width="0.45"/>
<line x1="441.09999999999997" y1="165.5964463711888" x2="442.2" y2="165.5964463711888" stroke="#555" stroke-width="0.45"/>
<line x1="441.09999999999997" y1="163.84105712184217" x2="442.2" y2="163.84105712184217" stroke="#555" stroke-width="0.45"/>
<line x1="441.09999999999997" y1="162.47947143907896" x2="442.2" y2="162.47947143907896" stroke="#555" stroke-width="0.45"/>
<line x1="441.09999999999997" y1="161.36697493210985" x2="442.2" y2="161.36697493210985" stroke="#555" stroke-width="0.45"/>
<line x1="441.09999999999997" y1="160.42637253779972" x2="442.2" y2="160.42637253779972" stroke="#555" stroke-width="0.45"/>
<line x1="441.09999999999997" y1="159.61158568276323" x2="442.2" y2="159.61158568276323" stroke="#555" stroke-width="0.45"/>
<line x1="441.09999999999997" y1="158.8928927423775" x2="442.2" y2="158.8928927423775" stroke="#555" stroke-width="0.45"/>
<line x1="440.2" y1="172.3" x2="442.2" y2="172.3" stroke="#333" stroke-width="0.7"/>
<text x="438.8" y="173.3" font-size="2.2" text-anchor="end" font-weight="normal" fill="#555" stroke="#555" stroke-width="0.22">10</text>
<text x="438.8" y="171.9" font-size="1.5" text-anchor="start" font-weight="normal" fill="#555" stroke="#555" stroke-width="0.22">3</text>
<line x1="441.09999999999997" y1="182.1205285609211" x2="442.2" y2="182.1205285609211" stroke="#555" stroke-width="0.45"/>
<line x1="441.09999999999997" y1="179.64644637118877" x2="442.2" y2="179.64644637118877" stroke="#555" stroke-width="0.45"/>
<line x1="441.09999999999997" y1="177.89105712184215" x2="442.2" y2="177.89105712184215" stroke="#555" stroke-width="0.45"/>
<line x1="441.09999999999997" y1="176.52947143907895" x2="442.2" y2="176.52947143907895" stroke="#555" stroke-width="0.45"/>
<line x1="441.09999999999997" y1="175.41697493210984" x2="442.2" y2="175.41697493210984" stroke="#555" stroke-width="0.45"/>
<line x1="441.09999999999997" y1="174.4763725377997" x2="442.2" y2="174.4763725377997" stroke="#555" stroke-width="0.45"/>
<line x1="441.09999999999997" y1="173.66158568276322" x2="442.2" y2="173.66158568276322" stroke="#555" stroke-width="0.45"/>
<line x1="441.09999999999997" y1="172.9428927423775" x2="442.2" y2="172.9428927423775" stroke="#555" stroke-width="0.45"/>
<line x1="440.2" y1="186.35000000000002" x2="442.2" y2="186.35000000000002" stroke="#333" stroke-width="0.7"/>
<text x="438.8" y="187.35000000000002" font-size="2.2" text-anchor="end" font-weight="normal" fill="#555" stroke="#555" stroke-width="0.22">10</text>
<text x="438.8" y="185.95000000000002" font-size="1.5" text-anchor="start" font-weight="normal" fill="#555" stroke="#555" stroke-width="0.22">2</text>
<line x1="441.09999999999997" y1="196.1705285609211" x2="442.2" y2="196.1705285609211" stroke="#555" stroke-width="0.45"/>
<line x1="441.09999999999997" y1="193.69644637118878" x2="442.2" y2="193.69644637118878" stroke="#555" stroke-width="0.45"/>
<line x1="441.09999999999997" y1="191.94105712184216" x2="442.2" y2="191.94105712184216" stroke="#555" stroke-width="0.45"/>
<line x1="441.09999999999997" y1="190.57947143907896" x2="442.2" y2="190.57947143907896" stroke="#555" stroke-width="0.45"/>
<line x1="441.09999999999997" y1="189.46697493210985" x2="442.2" y2="189.46697493210985" stroke="#555" stroke-width="0.45"/>
<line x1="441.09999999999997" y1="188.52637253779972" x2="442.2" y2="188.52637253779972" stroke="#555" stroke-width="0.45"/>
<line x1="441.09999999999997" y1="187.71158568276323" x2="442.2" y2="187.71158568276323" stroke="#555" stroke-width="0.45"/>
<line x1="441.09999999999997" y1="186.9928927423775" x2="442.2" y2="186.9928927423775" stroke="#555" stroke-width="0.45"/>
<line x1="440.2" y1="200.40000000000003" x2="442.2" y2="200.40000000000003" stroke="#333" stroke-width="0.7"/>
<text x="438.8" y="201.40000000000003" font-size="2.2" text-anchor="end" font-weight="normal" fill="#555" stroke="#555" stroke-width="0.22">10</text>
<text x="438.8" y="200.00000000000003" font-size="1.5" text-anchor="start" font-weight="normal" fill="#555" stroke="#555" stroke-width="0.22">1</text>
<line x1="441.09999999999997" y1="205.99105712184218" x2="442.2" y2="205.99105712184218" stroke="#555" stroke-width="0.45"/>
<line x1="441.09999999999997" y1="204.62947143907897" x2="442.2" y2="204.62947143907897" stroke="#555" stroke-width="0.45"/>
<line x1="441.09999999999997" y1="203.51697493210986" x2="442.2" y2="203.51697493210986" stroke="#555" stroke-width="0.45"/>
<line x1="441.09999999999997" y1="202.57637253779973" x2="442.2" y2="202.57637253779973" stroke="#555" stroke-width="0.45"/>
<line x1="441.09999999999997" y1="201.76158568276324" x2="442.2" y2="201.76158568276324" stroke="#555" stroke-width="0.45"/>
<line x1="441.09999999999997" y1="201.04289274237752" x2="442.2" y2="201.04289274237752" stroke="#555" stroke-width="0.45"/>
<line x1="442.2" y1="207.9" x2="442.2" y2="209.8" stroke="#333" stroke-width="0.7"/>
<text x="442.2" y="212.6" font-size="2.1" text-anchor="middle" font-weight="normal" fill="#444" stroke="#444" stroke-width="0.22">0</text>
<line x1="444.834" y1="207.9" x2="444.834" y2="209.0" stroke="#444" stroke-width="0.5"/>
<line x1="447.46799999999996" y1="207.9" x2="447.46799999999996" y2="209.0" stroke="#444" stroke-width="0.5"/>
<line x1="450.102" y1="207.9" x2="450.102" y2="209.0" stroke="#444" stroke-width="0.5"/>
<line x1="452.736" y1="207.9" x2="452.736" y2="209.0" stroke="#444" stroke-width="0.5"/>
<line x1="455.37" y1="207.9" x2="455.37" y2="209.8" stroke="#333" stroke-width="0.7"/>
<text x="455.37" y="212.6" font-size="2.1" text-anchor="middle" font-weight="normal" fill="#444" stroke="#444" stroke-width="0.22">50K</text>
<line x1="458.004" y1="207.9" x2="458.004" y2="209.0" stroke="#444" stroke-width="0.5"/>
<line x1="460.638" y1="207.9" x2="460.638" y2="209.0" stroke="#444" stroke-width="0.5"/>
<line x1="463.272" y1="207.9" x2="463.272" y2="209.0" stroke="#444" stroke-width="0.5"/>
<line x1="465.906" y1="207.9" x2="465.906" y2="209.0" stroke="#444" stroke-width="0.5"/>
<line x1="468.53999999999996" y1="207.9" x2="468.53999999999996" y2="209.8" stroke="#333" stroke-width="0.7"/>
<text x="468.53999999999996" y="212.6" font-size="2.1" text-anchor="middle" font-weight="normal" fill="#444" stroke="#444" stroke-width="0.22">100K</text>
<line x1="471.174" y1="207.9" x2="471.174" y2="209.0" stroke="#444" stroke-width="0.5"/>
<line x1="473.80799999999994" y1="207.9" x2="473.80799999999994" y2="209.0" stroke="#444" stroke-width="0.5"/>
<line x1="476.44199999999995" y1="207.9" x2="476.44199999999995" y2="209.0" stroke="#444" stroke-width="0.5"/>
<line x1="479.07599999999996" y1="207.9" x2="479.07599999999996" y2="209.0" stroke="#444" stroke-width="0.5"/>
<line x1="481.71" y1="207.9" x2="481.71" y2="209.8" stroke="#333" stroke-width="0.7"/>
<text x="481.71" y="212.6" font-size="2.1" text-anchor="middle" font-weight="normal" fill="#444" stroke="#444" stroke-width="0.22">150K</text>
<line x1="484.344" y1="207.9" x2="484.344" y2="209.0" stroke="#444" stroke-width="0.5"/>
<line x1="486.97799999999995" y1="207.9" x2="486.97799999999995" y2="209.0" stroke="#444" stroke-width="0.5"/>
<line x1="489.61199999999997" y1="207.9" x2="489.61199999999997" y2="209.0" stroke="#444" stroke-width="0.5"/>
<line x1="492.246" y1="207.9" x2="492.246" y2="209.0" stroke="#444" stroke-width="0.5"/>
<line x1="494.88" y1="207.9" x2="494.88" y2="209.8" stroke="#333" stroke-width="0.7"/>
<text x="494.88" y="212.6" font-size="2.1" text-anchor="middle" font-weight="normal" fill="#444" stroke="#444" stroke-width="0.22">200K</text>
<line x1="497.514" y1="207.9" x2="497.514" y2="209.0" stroke="#444" stroke-width="0.5"/>
<line x1="500.14799999999997" y1="207.9" x2="500.14799999999997" y2="209.0" stroke="#444" stroke-width="0.5"/>
<line x1="502.782" y1="207.9" x2="502.782" y2="209.0" stroke="#444" stroke-width="0.5"/>
<line x1="505.416" y1="207.9" x2="505.416" y2="209.0" stroke="#444" stroke-width="0.5"/>
<line x1="508.04999999999995" y1="207.9" x2="508.04999999999995" y2="209.8" stroke="#333" stroke-width="0.7"/>
<text x="508.04999999999995" y="212.6" font-size="2.1" text-anchor="middle" font-weight="normal" fill="#444" stroke="#444" stroke-width="0.22">250K</text>
<line x1="510.68399999999997" y1="207.9" x2="510.68399999999997" y2="209.0" stroke="#444" stroke-width="0.5"/>
<line x1="175.2" y1="233.6" x2="175.2" y2="303.8" stroke="#999" stroke-width="0.6"/>
<line x1="244.9" y1="233.6" x2="244.9" y2="303.8" stroke="#b5b5b5" stroke-width="0.6"/>
<line x1="175.2" y1="303.8" x2="244.9" y2="303.8" stroke="#333" stroke-width="0.8"/>
<ellipse cx="201.5" cy="275.5" rx="20" ry="14.5" fill="url(#hz)" filter="url(#sp)"/>
<g transform="translate(199.5 279) rotate(-5)">
<ellipse cx="2.8" cy="0.2" rx="15.7" ry="8.4" fill="#8fa9e2" opacity="0.6" filter="url(#bl)"/>
<ellipse cx="2.3" cy="0.2" rx="13.3" ry="7.0" fill="#4f78d2" opacity="0.9" filter="url(#bl)"/>
<ellipse cx="1.9" cy="0.1" rx="10.6" ry="5.2" fill="#3a9ccf" opacity="1" filter="url(#bl2)"/>
<ellipse cx="1.4" cy="0.0" rx="9.1" ry="4.4" fill="#45c2b0" opacity="1" filter="url(#bl2)"/>
<ellipse cx="1.0" cy="0.0" rx="7.6" ry="3.6" fill="#6ccc5e" opacity="1" filter="url(#bl2)"/>
<ellipse cx="0.5" cy="0.0" rx="5.5" ry="2.6" fill="#d6da34" opacity="1" filter="url(#bl2)"/>
<ellipse cx="0.0" cy="0.0" rx="3.0" ry="1.5" fill="#f09a22" opacity="1" filter="url(#bl2)"/>
</g>
<rect x="175.20" y="233.60" width="67.70" height="41.60" fill="none" stroke="#3a3a3a" stroke-width="0.9"/>
<text x="208" y="228.4" font-size="8.8" text-anchor="middle" font-weight="normal" fill="#111" stroke="#111" stroke-width="0.22">+40.0 ng C90</text>
<text x="240.70000000000002" y="241.6" font-size="8.4" text-anchor="end" font-weight="normal" fill="#262626" stroke="#262626" stroke-width="0.22">14.5</text>
<line x1="173.2" y1="239.4" x2="175.2" y2="239.4" stroke="#333" stroke-width="0.7"/>
<text x="171.79999999999998" y="240.4" font-size="2.2" text-anchor="end" font-weight="normal" fill="#555" stroke="#555" stroke-width="0.22">10</text>
<text x="171.79999999999998" y="239.0" font-size="1.5" text-anchor="start" font-weight="normal" fill="#555" stroke="#555" stroke-width="0.22">5</text>
<line x1="174.1" y1="249.22052856092108" x2="175.2" y2="249.22052856092108" stroke="#555" stroke-width="0.45"/>
<line x1="174.1" y1="246.74644637118877" x2="175.2" y2="246.74644637118877" stroke="#555" stroke-width="0.45"/>
<line x1="174.1" y1="244.99105712184215" x2="175.2" y2="244.99105712184215" stroke="#555" stroke-width="0.45"/>
<line x1="174.1" y1="243.62947143907894" x2="175.2" y2="243.62947143907894" stroke="#555" stroke-width="0.45"/>
<line x1="174.1" y1="242.51697493210983" x2="175.2" y2="242.51697493210983" stroke="#555" stroke-width="0.45"/>
<line x1="174.1" y1="241.5763725377997" x2="175.2" y2="241.5763725377997" stroke="#555" stroke-width="0.45"/>
<line x1="174.1" y1="240.7615856827632" x2="175.2" y2="240.7615856827632" stroke="#555" stroke-width="0.45"/>
<line x1="174.1" y1="240.0428927423775" x2="175.2" y2="240.0428927423775" stroke="#555" stroke-width="0.45"/>
<line x1="173.2" y1="253.45000000000002" x2="175.2" y2="253.45000000000002" stroke="#333" stroke-width="0.7"/>
<text x="171.79999999999998" y="254.45000000000002" font-size="2.2" text-anchor="end" font-weight="normal" fill="#555" stroke="#555" stroke-width="0.22">10</text>
<text x="171.79999999999998" y="253.05" font-size="1.5" text-anchor="start" font-weight="normal" fill="#555" stroke="#555" stroke-width="0.22">4</text>
<line x1="174.1" y1="263.27052856092104" x2="175.2" y2="263.27052856092104" stroke="#555" stroke-width="0.45"/>
<line x1="174.1" y1="260.7964463711887" x2="175.2" y2="260.7964463711887" stroke="#555" stroke-width="0.45"/>
<line x1="174.1" y1="259.04105712184213" x2="175.2" y2="259.04105712184213" stroke="#555" stroke-width="0.45"/>
<line x1="174.1" y1="257.67947143907895" x2="175.2" y2="257.67947143907895" stroke="#555" stroke-width="0.45"/>
<line x1="174.1" y1="256.5669749321098" x2="175.2" y2="256.5669749321098" stroke="#555" stroke-width="0.45"/>
<line x1="174.1" y1="255.62637253779968" x2="175.2" y2="255.62637253779968" stroke="#555" stroke-width="0.45"/>
<line x1="174.1" y1="254.8115856827632" x2="175.2" y2="254.8115856827632" stroke="#555" stroke-width="0.45"/>
<line x1="174.1" y1="254.09289274237747" x2="175.2" y2="254.09289274237747" stroke="#555" stroke-width="0.45"/>
<line x1="173.2" y1="267.5" x2="175.2" y2="267.5" stroke="#333" stroke-width="0.7"/>
<text x="171.79999999999998" y="268.5" font-size="2.2" text-anchor="end" font-weight="normal" fill="#555" stroke="#555" stroke-width="0.22">10</text>
<text x="171.79999999999998" y="267.1" font-size="1.5" text-anchor="start" font-weight="normal" fill="#555" stroke="#555" stroke-width="0.22">3</text>
<line x1="174.1" y1="277.32052856092105" x2="175.2" y2="277.32052856092105" stroke="#555" stroke-width="0.45"/>
<line x1="174.1" y1="274.84644637118873" x2="175.2" y2="274.84644637118873" stroke="#555" stroke-width="0.45"/>
<line x1="174.1" y1="273.09105712184214" x2="175.2" y2="273.09105712184214" stroke="#555" stroke-width="0.45"/>
<line x1="174.1" y1="271.72947143907896" x2="175.2" y2="271.72947143907896" stroke="#555" stroke-width="0.45"/>
<line x1="174.1" y1="270.6169749321098" x2="175.2" y2="270.6169749321098" stroke="#555" stroke-width="0.45"/>
<line x1="174.1" y1="269.6763725377997" x2="175.2" y2="269.6763725377997" stroke="#555" stroke-width="0.45"/>
<line x1="174.1" y1="268.8615856827632" x2="175.2" y2="268.8615856827632" stroke="#555" stroke-width="0.45"/>
<line x1="174.1" y1="268.1428927423775" x2="175.2" y2="268.1428927423775" stroke="#555" stroke-width="0.45"/>
<line x1="173.2" y1="281.55" x2="175.2" y2="281.55" stroke="#333" stroke-width="0.7"/>
<text x="171.79999999999998" y="282.55" font-size="2.2" text-anchor="end" font-weight="normal" fill="#555" stroke="#555" stroke-width="0.22">10</text>
<text x="171.79999999999998" y="281.15000000000003" font-size="1.5" text-anchor="start" font-weight="normal" fill="#555" stroke="#555" stroke-width="0.22">2</text>
<line x1="174.1" y1="291.37052856092106" x2="175.2" y2="291.37052856092106" stroke="#555" stroke-width="0.45"/>
<line x1="174.1" y1="288.89644637118874" x2="175.2" y2="288.89644637118874" stroke="#555" stroke-width="0.45"/>
<line x1="174.1" y1="287.14105712184215" x2="175.2" y2="287.14105712184215" stroke="#555" stroke-width="0.45"/>
<line x1="174.1" y1="285.779471439079" x2="175.2" y2="285.779471439079" stroke="#555" stroke-width="0.45"/>
<line x1="174.1" y1="284.66697493210984" x2="175.2" y2="284.66697493210984" stroke="#555" stroke-width="0.45"/>
<line x1="174.1" y1="283.7263725377997" x2="175.2" y2="283.7263725377997" stroke="#555" stroke-width="0.45"/>
<line x1="174.1" y1="282.9115856827632" x2="175.2" y2="282.9115856827632" stroke="#555" stroke-width="0.45"/>
<line x1="174.1" y1="282.1928927423775" x2="175.2" y2="282.1928927423775" stroke="#555" stroke-width="0.45"/>
<line x1="173.2" y1="295.6" x2="175.2" y2="295.6" stroke="#333" stroke-width="0.7"/>
<text x="171.79999999999998" y="296.6" font-size="2.2" text-anchor="end" font-weight="normal" fill="#555" stroke="#555" stroke-width="0.22">10</text>
<text x="171.79999999999998" y="295.20000000000005" font-size="1.5" text-anchor="start" font-weight="normal" fill="#555" stroke="#555" stroke-width="0.22">1</text>
<line x1="174.1" y1="302.94644637118876" x2="175.2" y2="302.94644637118876" stroke="#555" stroke-width="0.45"/>
<line x1="174.1" y1="301.19105712184216" x2="175.2" y2="301.19105712184216" stroke="#555" stroke-width="0.45"/>
<line x1="174.1" y1="299.829471439079" x2="175.2" y2="299.829471439079" stroke="#555" stroke-width="0.45"/>
<line x1="174.1" y1="298.71697493210985" x2="175.2" y2="298.71697493210985" stroke="#555" stroke-width="0.45"/>
<line x1="174.1" y1="297.7763725377997" x2="175.2" y2="297.7763725377997" stroke="#555" stroke-width="0.45"/>
<line x1="174.1" y1="296.9615856827632" x2="175.2" y2="296.9615856827632" stroke="#555" stroke-width="0.45"/>
<line x1="174.1" y1="296.24289274237753" x2="175.2" y2="296.24289274237753" stroke="#555" stroke-width="0.45"/>
<line x1="175.2" y1="303.8" x2="175.2" y2="305.7" stroke="#333" stroke-width="0.7"/>
<text x="175.2" y="308.5" font-size="2.1" text-anchor="middle" font-weight="normal" fill="#444" stroke="#444" stroke-width="0.22">0</text>
<line x1="177.83399999999997" y1="303.8" x2="177.83399999999997" y2="304.90000000000003" stroke="#444" stroke-width="0.5"/>
<line x1="180.468" y1="303.8" x2="180.468" y2="304.90000000000003" stroke="#444" stroke-width="0.5"/>
<line x1="183.10199999999998" y1="303.8" x2="183.10199999999998" y2="304.90000000000003" stroke="#444" stroke-width="0.5"/>
<line x1="185.736" y1="303.8" x2="185.736" y2="304.90000000000003" stroke="#444" stroke-width="0.5"/>
<line x1="188.36999999999998" y1="303.8" x2="188.36999999999998" y2="305.7" stroke="#333" stroke-width="0.7"/>
<text x="188.36999999999998" y="308.5" font-size="2.1" text-anchor="middle" font-weight="normal" fill="#444" stroke="#444" stroke-width="0.22">50K</text>
<line x1="191.00399999999996" y1="303.8" x2="191.00399999999996" y2="304.90000000000003" stroke="#444" stroke-width="0.5"/>
<line x1="193.63799999999998" y1="303.8" x2="193.63799999999998" y2="304.90000000000003" stroke="#444" stroke-width="0.5"/>
<line x1="196.27199999999996" y1="303.8" x2="196.27199999999996" y2="304.90000000000003" stroke="#444" stroke-width="0.5"/>
<line x1="198.90599999999998" y1="303.8" x2="198.90599999999998" y2="304.90000000000003" stroke="#444" stroke-width="0.5"/>
<line x1="201.54" y1="303.8" x2="201.54" y2="305.7" stroke="#333" stroke-width="0.7"/>
<text x="201.54" y="308.5" font-size="2.1" text-anchor="middle" font-weight="normal" fill="#444" stroke="#444" stroke-width="0.22">100K</text>
<line x1="204.17399999999998" y1="303.8" x2="204.17399999999998" y2="304.90000000000003" stroke="#444" stroke-width="0.5"/>
<line x1="206.808" y1="303.8" x2="206.808" y2="304.90000000000003" stroke="#444" stroke-width="0.5"/>
<line x1="209.44199999999998" y1="303.8" x2="209.44199999999998" y2="304.90000000000003" stroke="#444" stroke-width="0.5"/>
<line x1="212.076" y1="303.8" x2="212.076" y2="304.90000000000003" stroke="#444" stroke-width="0.5"/>
<line x1="214.70999999999998" y1="303.8" x2="214.70999999999998" y2="305.7" stroke="#333" stroke-width="0.7"/>
<text x="214.70999999999998" y="308.5" font-size="2.1" text-anchor="middle" font-weight="normal" fill="#444" stroke="#444" stroke-width="0.22">150K</text>
<line x1="217.34399999999997" y1="303.8" x2="217.34399999999997" y2="304.90000000000003" stroke="#444" stroke-width="0.5"/>
<line x1="219.97799999999998" y1="303.8" x2="219.97799999999998" y2="304.90000000000003" stroke="#444" stroke-width="0.5"/>
<line x1="222.61199999999997" y1="303.8" x2="222.61199999999997" y2="304.90000000000003" stroke="#444" stroke-width="0.5"/>
<line x1="225.24599999999998" y1="303.8" x2="225.24599999999998" y2="304.90000000000003" stroke="#444" stroke-width="0.5"/>
<line x1="227.88" y1="303.8" x2="227.88" y2="305.7" stroke="#333" stroke-width="0.7"/>
<text x="227.88" y="308.5" font-size="2.1" text-anchor="middle" font-weight="normal" fill="#444" stroke="#444" stroke-width="0.22">200K</text>
<line x1="230.51399999999998" y1="303.8" x2="230.51399999999998" y2="304.90000000000003" stroke="#444" stroke-width="0.5"/>
<line x1="233.148" y1="303.8" x2="233.148" y2="304.90000000000003" stroke="#444" stroke-width="0.5"/>
<line x1="235.78199999999998" y1="303.8" x2="235.78199999999998" y2="304.90000000000003" stroke="#444" stroke-width="0.5"/>
<line x1="238.416" y1="303.8" x2="238.416" y2="304.90000000000003" stroke="#444" stroke-width="0.5"/>
<line x1="241.04999999999998" y1="303.8" x2="241.04999999999998" y2="305.7" stroke="#333" stroke-width="0.7"/>
<text x="241.04999999999998" y="308.5" font-size="2.1" text-anchor="middle" font-weight="normal" fill="#444" stroke="#444" stroke-width="0.22">250K</text>
<line x1="243.68399999999997" y1="303.8" x2="243.68399999999997" y2="304.90000000000003" stroke="#444" stroke-width="0.5"/>
<line x1="263.7" y1="233.6" x2="263.7" y2="303.8" stroke="#999" stroke-width="0.6"/>
<line x1="333.5" y1="233.6" x2="333.5" y2="303.8" stroke="#b5b5b5" stroke-width="0.6"/>
<line x1="263.7" y1="303.8" x2="333.5" y2="303.8" stroke="#333" stroke-width="0.8"/>
<ellipse cx="289.2" cy="276.5" rx="20" ry="14.5" fill="url(#hz)" filter="url(#sp)"/>
<g transform="translate(285.2 280.5) rotate(-7)">
<ellipse cx="2.8" cy="0.2" rx="15.2" ry="8.4" fill="#8fa9e2" opacity="0.6" filter="url(#bl)"/>
<ellipse cx="2.3" cy="0.2" rx="12.9" ry="7.0" fill="#4f78d2" opacity="0.9" filter="url(#bl)"/>
<ellipse cx="1.9" cy="0.1" rx="10.3" ry="5.2" fill="#3a9ccf" opacity="1" filter="url(#bl2)"/>
<ellipse cx="1.4" cy="0.0" rx="8.8" ry="4.4" fill="#45c2b0" opacity="1" filter="url(#bl2)"/>
<ellipse cx="1.0" cy="0.0" rx="7.4" ry="3.6" fill="#6ccc5e" opacity="1" filter="url(#bl2)"/>
<ellipse cx="0.5" cy="0.0" rx="5.3" ry="2.6" fill="#d6da34" opacity="1" filter="url(#bl2)"/>
<ellipse cx="0.0" cy="0.0" rx="2.9" ry="1.5" fill="#f09a22" opacity="1" filter="url(#bl2)"/>
</g>
<rect x="263.70" y="233.60" width="67.80" height="41.50" fill="none" stroke="#3a3a3a" stroke-width="0.9"/>
<text x="297.5" y="228.6" font-size="8.8" text-anchor="middle" font-weight="normal" fill="#111" stroke="#111" stroke-width="0.22">+200 ng C90</text>
<text x="329.3" y="241.6" font-size="8.4" text-anchor="end" font-weight="normal" fill="#262626" stroke="#262626" stroke-width="0.22">8.87</text>
<line x1="261.7" y1="239.4" x2="263.7" y2="239.4" stroke="#333" stroke-width="0.7"/>
<text x="260.3" y="240.4" font-size="2.2" text-anchor="end" font-weight="normal" fill="#555" stroke="#555" stroke-width="0.22">10</text>
<text x="260.3" y="239.0" font-size="1.5" text-anchor="start" font-weight="normal" fill="#555" stroke="#555" stroke-width="0.22">5</text>
<line x1="262.59999999999997" y1="249.22052856092108" x2="263.7" y2="249.22052856092108" stroke="#555" stroke-width="0.45"/>
<line x1="262.59999999999997" y1="246.74644637118877" x2="263.7" y2="246.74644637118877" stroke="#555" stroke-width="0.45"/>
<line x1="262.59999999999997" y1="244.99105712184215" x2="263.7" y2="244.99105712184215" stroke="#555" stroke-width="0.45"/>
<line x1="262.59999999999997" y1="243.62947143907894" x2="263.7" y2="243.62947143907894" stroke="#555" stroke-width="0.45"/>
<line x1="262.59999999999997" y1="242.51697493210983" x2="263.7" y2="242.51697493210983" stroke="#555" stroke-width="0.45"/>
<line x1="262.59999999999997" y1="241.5763725377997" x2="263.7" y2="241.5763725377997" stroke="#555" stroke-width="0.45"/>
<line x1="262.59999999999997" y1="240.7615856827632" x2="263.7" y2="240.7615856827632" stroke="#555" stroke-width="0.45"/>
<line x1="262.59999999999997" y1="240.0428927423775" x2="263.7" y2="240.0428927423775" stroke="#555" stroke-width="0.45"/>
<line x1="261.7" y1="253.45000000000002" x2="263.7" y2="253.45000000000002" stroke="#333" stroke-width="0.7"/>
<text x="260.3" y="254.45000000000002" font-size="2.2" text-anchor="end" font-weight="normal" fill="#555" stroke="#555" stroke-width="0.22">10</text>
<text x="260.3" y="253.05" font-size="1.5" text-anchor="start" font-weight="normal" fill="#555" stroke="#555" stroke-width="0.22">4</text>
<line x1="262.59999999999997" y1="263.27052856092104" x2="263.7" y2="263.27052856092104" stroke="#555" stroke-width="0.45"/>
<line x1="262.59999999999997" y1="260.7964463711887" x2="263.7" y2="260.7964463711887" stroke="#555" stroke-width="0.45"/>
<line x1="262.59999999999997" y1="259.04105712184213" x2="263.7" y2="259.04105712184213" stroke="#555" stroke-width="0.45"/>
<line x1="262.59999999999997" y1="257.67947143907895" x2="263.7" y2="257.67947143907895" stroke="#555" stroke-width="0.45"/>
<line x1="262.59999999999997" y1="256.5669749321098" x2="263.7" y2="256.5669749321098" stroke="#555" stroke-width="0.45"/>
<line x1="262.59999999999997" y1="255.62637253779968" x2="263.7" y2="255.62637253779968" stroke="#555" stroke-width="0.45"/>
<line x1="262.59999999999997" y1="254.8115856827632" x2="263.7" y2="254.8115856827632" stroke="#555" stroke-width="0.45"/>
<line x1="262.59999999999997" y1="254.09289274237747" x2="263.7" y2="254.09289274237747" stroke="#555" stroke-width="0.45"/>
<line x1="261.7" y1="267.5" x2="263.7" y2="267.5" stroke="#333" stroke-width="0.7"/>
<text x="260.3" y="268.5" font-size="2.2" text-anchor="end" font-weight="normal" fill="#555" stroke="#555" stroke-width="0.22">10</text>
<text x="260.3" y="267.1" font-size="1.5" text-anchor="start" font-weight="normal" fill="#555" stroke="#555" stroke-width="0.22">3</text>
<line x1="262.59999999999997" y1="277.32052856092105" x2="263.7" y2="277.32052856092105" stroke="#555" stroke-width="0.45"/>
<line x1="262.59999999999997" y1="274.84644637118873" x2="263.7" y2="274.84644637118873" stroke="#555" stroke-width="0.45"/>
<line x1="262.59999999999997" y1="273.09105712184214" x2="263.7" y2="273.09105712184214" stroke="#555" stroke-width="0.45"/>
<line x1="262.59999999999997" y1="271.72947143907896" x2="263.7" y2="271.72947143907896" stroke="#555" stroke-width="0.45"/>
<line x1="262.59999999999997" y1="270.6169749321098" x2="263.7" y2="270.6169749321098" stroke="#555" stroke-width="0.45"/>
<line x1="262.59999999999997" y1="269.6763725377997" x2="263.7" y2="269.6763725377997" stroke="#555" stroke-width="0.45"/>
<line x1="262.59999999999997" y1="268.8615856827632" x2="263.7" y2="268.8615856827632" stroke="#555" stroke-width="0.45"/>
<line x1="262.59999999999997" y1="268.1428927423775" x2="263.7" y2="268.1428927423775" stroke="#555" stroke-width="0.45"/>
<line x1="261.7" y1="281.55" x2="263.7" y2="281.55" stroke="#333" stroke-width="0.7"/>
<text x="260.3" y="282.55" font-size="2.2" text-anchor="end" font-weight="normal" fill="#555" stroke="#555" stroke-width="0.22">10</text>
<text x="260.3" y="281.15000000000003" font-size="1.5" text-anchor="start" font-weight="normal" fill="#555" stroke="#555" stroke-width="0.22">2</text>
<line x1="262.59999999999997" y1="291.37052856092106" x2="263.7" y2="291.37052856092106" stroke="#555" stroke-width="0.45"/>
<line x1="262.59999999999997" y1="288.89644637118874" x2="263.7" y2="288.89644637118874" stroke="#555" stroke-width="0.45"/>
<line x1="262.59999999999997" y1="287.14105712184215" x2="263.7" y2="287.14105712184215" stroke="#555" stroke-width="0.45"/>
<line x1="262.59999999999997" y1="285.779471439079" x2="263.7" y2="285.779471439079" stroke="#555" stroke-width="0.45"/>
<line x1="262.59999999999997" y1="284.66697493210984" x2="263.7" y2="284.66697493210984" stroke="#555" stroke-width="0.45"/>
<line x1="262.59999999999997" y1="283.7263725377997" x2="263.7" y2="283.7263725377997" stroke="#555" stroke-width="0.45"/>
<line x1="262.59999999999997" y1="282.9115856827632" x2="263.7" y2="282.9115856827632" stroke="#555" stroke-width="0.45"/>
<line x1="262.59999999999997" y1="282.1928927423775" x2="263.7" y2="282.1928927423775" stroke="#555" stroke-width="0.45"/>
<line x1="261.7" y1="295.6" x2="263.7" y2="295.6" stroke="#333" stroke-width="0.7"/>
<text x="260.3" y="296.6" font-size="2.2" text-anchor="end" font-weight="normal" fill="#555" stroke="#555" stroke-width="0.22">10</text>
<text x="260.3" y="295.20000000000005" font-size="1.5" text-anchor="start" font-weight="normal" fill="#555" stroke="#555" stroke-width="0.22">1</text>
<line x1="262.59999999999997" y1="302.94644637118876" x2="263.7" y2="302.94644637118876" stroke="#555" stroke-width="0.45"/>
<line x1="262.59999999999997" y1="301.19105712184216" x2="263.7" y2="301.19105712184216" stroke="#555" stroke-width="0.45"/>
<line x1="262.59999999999997" y1="299.829471439079" x2="263.7" y2="299.829471439079" stroke="#555" stroke-width="0.45"/>
<line x1="262.59999999999997" y1="298.71697493210985" x2="263.7" y2="298.71697493210985" stroke="#555" stroke-width="0.45"/>
<line x1="262.59999999999997" y1="297.7763725377997" x2="263.7" y2="297.7763725377997" stroke="#555" stroke-width="0.45"/>
<line x1="262.59999999999997" y1="296.9615856827632" x2="263.7" y2="296.9615856827632" stroke="#555" stroke-width="0.45"/>
<line x1="262.59999999999997" y1="296.24289274237753" x2="263.7" y2="296.24289274237753" stroke="#555" stroke-width="0.45"/>
<line x1="263.7" y1="303.8" x2="263.7" y2="305.7" stroke="#333" stroke-width="0.7"/>
<text x="263.7" y="308.5" font-size="2.1" text-anchor="middle" font-weight="normal" fill="#444" stroke="#444" stroke-width="0.22">0</text>
<line x1="266.334" y1="303.8" x2="266.334" y2="304.90000000000003" stroke="#444" stroke-width="0.5"/>
<line x1="268.96799999999996" y1="303.8" x2="268.96799999999996" y2="304.90000000000003" stroke="#444" stroke-width="0.5"/>
<line x1="271.602" y1="303.8" x2="271.602" y2="304.90000000000003" stroke="#444" stroke-width="0.5"/>
<line x1="274.236" y1="303.8" x2="274.236" y2="304.90000000000003" stroke="#444" stroke-width="0.5"/>
<line x1="276.87" y1="303.8" x2="276.87" y2="305.7" stroke="#333" stroke-width="0.7"/>
<text x="276.87" y="308.5" font-size="2.1" text-anchor="middle" font-weight="normal" fill="#444" stroke="#444" stroke-width="0.22">50K</text>
<line x1="279.504" y1="303.8" x2="279.504" y2="304.90000000000003" stroke="#444" stroke-width="0.5"/>
<line x1="282.138" y1="303.8" x2="282.138" y2="304.90000000000003" stroke="#444" stroke-width="0.5"/>
<line x1="284.772" y1="303.8" x2="284.772" y2="304.90000000000003" stroke="#444" stroke-width="0.5"/>
<line x1="287.406" y1="303.8" x2="287.406" y2="304.90000000000003" stroke="#444" stroke-width="0.5"/>
<line x1="290.03999999999996" y1="303.8" x2="290.03999999999996" y2="305.7" stroke="#333" stroke-width="0.7"/>
<text x="290.03999999999996" y="308.5" font-size="2.1" text-anchor="middle" font-weight="normal" fill="#444" stroke="#444" stroke-width="0.22">100K</text>
<line x1="292.674" y1="303.8" x2="292.674" y2="304.90000000000003" stroke="#444" stroke-width="0.5"/>
<line x1="295.30799999999994" y1="303.8" x2="295.30799999999994" y2="304.90000000000003" stroke="#444" stroke-width="0.5"/>
<line x1="297.94199999999995" y1="303.8" x2="297.94199999999995" y2="304.90000000000003" stroke="#444" stroke-width="0.5"/>
<line x1="300.57599999999996" y1="303.8" x2="300.57599999999996" y2="304.90000000000003" stroke="#444" stroke-width="0.5"/>
<line x1="303.21" y1="303.8" x2="303.21" y2="305.7" stroke="#333" stroke-width="0.7"/>
<text x="303.21" y="308.5" font-size="2.1" text-anchor="middle" font-weight="normal" fill="#444" stroke="#444" stroke-width="0.22">150K</text>
<line x1="305.844" y1="303.8" x2="305.844" y2="304.90000000000003" stroke="#444" stroke-width="0.5"/>
<line x1="308.47799999999995" y1="303.8" x2="308.47799999999995" y2="304.90000000000003" stroke="#444" stroke-width="0.5"/>
<line x1="311.11199999999997" y1="303.8" x2="311.11199999999997" y2="304.90000000000003" stroke="#444" stroke-width="0.5"/>
<line x1="313.746" y1="303.8" x2="313.746" y2="304.90000000000003" stroke="#444" stroke-width="0.5"/>
<line x1="316.38" y1="303.8" x2="316.38" y2="305.7" stroke="#333" stroke-width="0.7"/>
<text x="316.38" y="308.5" font-size="2.1" text-anchor="middle" font-weight="normal" fill="#444" stroke="#444" stroke-width="0.22">200K</text>
<line x1="319.014" y1="303.8" x2="319.014" y2="304.90000000000003" stroke="#444" stroke-width="0.5"/>
<line x1="321.64799999999997" y1="303.8" x2="321.64799999999997" y2="304.90000000000003" stroke="#444" stroke-width="0.5"/>
<line x1="324.282" y1="303.8" x2="324.282" y2="304.90000000000003" stroke="#444" stroke-width="0.5"/>
<line x1="326.916" y1="303.8" x2="326.916" y2="304.90000000000003" stroke="#444" stroke-width="0.5"/>
<line x1="329.54999999999995" y1="303.8" x2="329.54999999999995" y2="305.7" stroke="#333" stroke-width="0.7"/>
<text x="329.54999999999995" y="308.5" font-size="2.1" text-anchor="middle" font-weight="normal" fill="#444" stroke="#444" stroke-width="0.22">250K</text>
<line x1="332.18399999999997" y1="303.8" x2="332.18399999999997" y2="304.90000000000003" stroke="#444" stroke-width="0.5"/>
<line x1="353.6" y1="233.9" x2="353.6" y2="301.4" stroke="#999" stroke-width="0.6"/>
<line x1="422.6" y1="233.9" x2="422.6" y2="301.4" stroke="#b5b5b5" stroke-width="0.6"/>
<line x1="353.6" y1="301.4" x2="422.6" y2="301.4" stroke="#333" stroke-width="0.8"/>
<ellipse cx="377.9" cy="275.2" rx="19" ry="14" fill="url(#hz)" filter="url(#sp)"/>
<g transform="translate(374.9 278.7) rotate(-8)">
<ellipse cx="2.8" cy="0.2" rx="14.8" ry="8.4" fill="#8fa9e2" opacity="0.6" filter="url(#bl)"/>
<ellipse cx="2.3" cy="0.2" rx="12.6" ry="7.0" fill="#4f78d2" opacity="0.9" filter="url(#bl)"/>
<ellipse cx="1.9" cy="0.1" rx="10.1" ry="5.2" fill="#3a9ccf" opacity="1" filter="url(#bl2)"/>
<ellipse cx="1.4" cy="0.0" rx="8.6" ry="4.4" fill="#45c2b0" opacity="1" filter="url(#bl2)"/>
<ellipse cx="1.0" cy="0.0" rx="7.2" ry="3.6" fill="#6ccc5e" opacity="1" filter="url(#bl2)"/>
<ellipse cx="0.5" cy="0.0" rx="5.2" ry="2.6" fill="#d6da34" opacity="1" filter="url(#bl2)"/>
<ellipse cx="0.0" cy="0.0" rx="2.9" ry="1.5" fill="#f09a22" opacity="1" filter="url(#bl2)"/>
</g>
<rect x="353.60" y="233.90" width="67.00" height="39.60" fill="none" stroke="#3a3a3a" stroke-width="0.9"/>
<text x="388" y="228.6" font-size="8.8" text-anchor="middle" font-weight="normal" fill="#111" stroke="#111" stroke-width="0.22">+1,000 ng C90</text>
<text x="418.40000000000003" y="241.9" font-size="8.4" text-anchor="end" font-weight="normal" fill="#262626" stroke="#262626" stroke-width="0.22">8.24</text>
<line x1="351.6" y1="239.70000000000002" x2="353.6" y2="239.70000000000002" stroke="#333" stroke-width="0.7"/>
<text x="350.20000000000005" y="240.70000000000002" font-size="2.2" text-anchor="end" font-weight="normal" fill="#555" stroke="#555" stroke-width="0.22">10</text>
<text x="350.20000000000005" y="239.3" font-size="1.5" text-anchor="start" font-weight="normal" fill="#555" stroke="#555" stroke-width="0.22">5</text>
<line x1="352.5" y1="249.17104355875307" x2="353.6" y2="249.17104355875307" stroke="#555" stroke-width="0.45"/>
<line x1="352.5" y1="246.7850069985486" x2="353.6" y2="246.7850069985486" stroke="#555" stroke-width="0.45"/>
<line x1="352.5" y1="245.09208711750614" x2="353.6" y2="245.09208711750614" stroke="#555" stroke-width="0.45"/>
<line x1="352.5" y1="243.77895644124698" x2="353.6" y2="243.77895644124698" stroke="#555" stroke-width="0.45"/>
<line x1="352.5" y1="242.70605055730167" x2="353.6" y2="242.70605055730167" stroke="#555" stroke-width="0.45"/>
<line x1="352.5" y1="241.79892155780684" x2="353.6" y2="241.79892155780684" stroke="#555" stroke-width="0.45"/>
<line x1="352.5" y1="241.01313067625918" x2="353.6" y2="241.01313067625918" stroke="#555" stroke-width="0.45"/>
<line x1="352.5" y1="240.32001399709716" x2="353.6" y2="240.32001399709716" stroke="#555" stroke-width="0.45"/>
<line x1="351.6" y1="253.25000000000003" x2="353.6" y2="253.25000000000003" stroke="#333" stroke-width="0.7"/>
<text x="350.20000000000005" y="254.25000000000003" font-size="2.2" text-anchor="end" font-weight="normal" fill="#555" stroke="#555" stroke-width="0.22">10</text>
<text x="350.20000000000005" y="252.85000000000002" font-size="1.5" text-anchor="start" font-weight="normal" fill="#555" stroke="#555" stroke-width="0.22">4</text>
<line x1="352.5" y1="262.7210435587531" x2="353.6" y2="262.7210435587531" stroke="#555" stroke-width="0.45"/>
<line x1="352.5" y1="260.3350069985486" x2="353.6" y2="260.3350069985486" stroke="#555" stroke-width="0.45"/>
<line x1="352.5" y1="258.6420871175061" x2="353.6" y2="258.6420871175061" stroke="#555" stroke-width="0.45"/>
<line x1="352.5" y1="257.32895644124693" x2="353.6" y2="257.32895644124693" stroke="#555" stroke-width="0.45"/>
<line x1="352.5" y1="256.25605055730165" x2="353.6" y2="256.25605055730165" stroke="#555" stroke-width="0.45"/>
<line x1="352.5" y1="255.34892155780682" x2="353.6" y2="255.34892155780682" stroke="#555" stroke-width="0.45"/>
<line x1="352.5" y1="254.56313067625916" x2="353.6" y2="254.56313067625916" stroke="#555" stroke-width="0.45"/>
<line x1="352.5" y1="253.87001399709715" x2="353.6" y2="253.87001399709715" stroke="#555" stroke-width="0.45"/>
<line x1="351.6" y1="266.8" x2="353.6" y2="266.8" stroke="#333" stroke-width="0.7"/>
<text x="350.20000000000005" y="267.8" font-size="2.2" text-anchor="end" font-weight="normal" fill="#555" stroke="#555" stroke-width="0.22">10</text>
<text x="350.20000000000005" y="266.40000000000003" font-size="1.5" text-anchor="start" font-weight="normal" fill="#555" stroke="#555" stroke-width="0.22">3</text>
<line x1="352.5" y1="276.2710435587531" x2="353.6" y2="276.2710435587531" stroke="#555" stroke-width="0.45"/>
<line x1="352.5" y1="273.8850069985486" x2="353.6" y2="273.8850069985486" stroke="#555" stroke-width="0.45"/>
<line x1="352.5" y1="272.1920871175061" x2="353.6" y2="272.1920871175061" stroke="#555" stroke-width="0.45"/>
<line x1="352.5" y1="270.87895644124694" x2="353.6" y2="270.87895644124694" stroke="#555" stroke-width="0.45"/>
<line x1="352.5" y1="269.80605055730166" x2="353.6" y2="269.80605055730166" stroke="#555" stroke-width="0.45"/>
<line x1="352.5" y1="268.89892155780683" x2="353.6" y2="268.89892155780683" stroke="#555" stroke-width="0.45"/>
<line x1="352.5" y1="268.1131306762592" x2="353.6" y2="268.1131306762592" stroke="#555" stroke-width="0.45"/>
<line x1="352.5" y1="267.42001399709716" x2="353.6" y2="267.42001399709716" stroke="#555" stroke-width="0.45"/>
<line x1="351.6" y1="280.35" x2="353.6" y2="280.35" stroke="#333" stroke-width="0.7"/>
<text x="350.20000000000005" y="281.35" font-size="2.2" text-anchor="end" font-weight="normal" fill="#555" stroke="#555" stroke-width="0.22">10</text>
<text x="350.20000000000005" y="279.95000000000005" font-size="1.5" text-anchor="start" font-weight="normal" fill="#555" stroke="#555" stroke-width="0.22">2</text>
<line x1="352.5" y1="289.8210435587531" x2="353.6" y2="289.8210435587531" stroke="#555" stroke-width="0.45"/>
<line x1="352.5" y1="287.4350069985486" x2="353.6" y2="287.4350069985486" stroke="#555" stroke-width="0.45"/>
<line x1="352.5" y1="285.7420871175061" x2="353.6" y2="285.7420871175061" stroke="#555" stroke-width="0.45"/>
<line x1="352.5" y1="284.42895644124695" x2="353.6" y2="284.42895644124695" stroke="#555" stroke-width="0.45"/>
<line x1="352.5" y1="283.35605055730167" x2="353.6" y2="283.35605055730167" stroke="#555" stroke-width="0.45"/>
<line x1="352.5" y1="282.44892155780684" x2="353.6" y2="282.44892155780684" stroke="#555" stroke-width="0.45"/>
<line x1="352.5" y1="281.6631306762592" x2="353.6" y2="281.6631306762592" stroke="#555" stroke-width="0.45"/>
<line x1="352.5" y1="280.97001399709717" x2="353.6" y2="280.97001399709717" stroke="#555" stroke-width="0.45"/>
<line x1="351.6" y1="293.90000000000003" x2="353.6" y2="293.90000000000003" stroke="#333" stroke-width="0.7"/>
<text x="350.20000000000005" y="294.90000000000003" font-size="2.2" text-anchor="end" font-weight="normal" fill="#555" stroke="#555" stroke-width="0.22">10</text>
<text x="350.20000000000005" y="293.50000000000006" font-size="1.5" text-anchor="start" font-weight="normal" fill="#555" stroke="#555" stroke-width="0.22">1</text>
<line x1="352.5" y1="299.2920871175061" x2="353.6" y2="299.2920871175061" stroke="#555" stroke-width="0.45"/>
<line x1="352.5" y1="297.97895644124696" x2="353.6" y2="297.97895644124696" stroke="#555" stroke-width="0.45"/>
<line x1="352.5" y1="296.9060505573017" x2="353.6" y2="296.9060505573017" stroke="#555" stroke-width="0.45"/>
<line x1="352.5" y1="295.99892155780685" x2="353.6" y2="295.99892155780685" stroke="#555" stroke-width="0.45"/>
<line x1="352.5" y1="295.2131306762592" x2="353.6" y2="295.2131306762592" stroke="#555" stroke-width="0.45"/>
<line x1="352.5" y1="294.5200139970972" x2="353.6" y2="294.5200139970972" stroke="#555" stroke-width="0.45"/>
<line x1="353.6" y1="301.4" x2="353.6" y2="303.29999999999995" stroke="#333" stroke-width="0.7"/>
<text x="353.6" y="306.09999999999997" font-size="2.1" text-anchor="middle" font-weight="normal" fill="#444" stroke="#444" stroke-width="0.22">0</text>
<line x1="356.15000000000003" y1="301.4" x2="356.15000000000003" y2="302.5" stroke="#444" stroke-width="0.5"/>
<line x1="358.70000000000005" y1="301.4" x2="358.70000000000005" y2="302.5" stroke="#444" stroke-width="0.5"/>
<line x1="361.25" y1="301.4" x2="361.25" y2="302.5" stroke="#444" stroke-width="0.5"/>
<line x1="363.8" y1="301.4" x2="363.8" y2="302.5" stroke="#444" stroke-width="0.5"/>
<line x1="366.35" y1="301.4" x2="366.35" y2="303.29999999999995" stroke="#333" stroke-width="0.7"/>
<text x="366.35" y="306.09999999999997" font-size="2.1" text-anchor="middle" font-weight="normal" fill="#444" stroke="#444" stroke-width="0.22">50K</text>
<line x1="368.90000000000003" y1="301.4" x2="368.90000000000003" y2="302.5" stroke="#444" stroke-width="0.5"/>
<line x1="371.45000000000005" y1="301.4" x2="371.45000000000005" y2="302.5" stroke="#444" stroke-width="0.5"/>
<line x1="374.0" y1="301.4" x2="374.0" y2="302.5" stroke="#444" stroke-width="0.5"/>
<line x1="376.55" y1="301.4" x2="376.55" y2="302.5" stroke="#444" stroke-width="0.5"/>
<line x1="379.1" y1="301.4" x2="379.1" y2="303.29999999999995" stroke="#333" stroke-width="0.7"/>
<text x="379.1" y="306.09999999999997" font-size="2.1" text-anchor="middle" font-weight="normal" fill="#444" stroke="#444" stroke-width="0.22">100K</text>
<line x1="381.65000000000003" y1="301.4" x2="381.65000000000003" y2="302.5" stroke="#444" stroke-width="0.5"/>
<line x1="384.20000000000005" y1="301.4" x2="384.20000000000005" y2="302.5" stroke="#444" stroke-width="0.5"/>
<line x1="386.75" y1="301.4" x2="386.75" y2="302.5" stroke="#444" stroke-width="0.5"/>
<line x1="389.3" y1="301.4" x2="389.3" y2="302.5" stroke="#444" stroke-width="0.5"/>
<line x1="391.85" y1="301.4" x2="391.85" y2="303.29999999999995" stroke="#333" stroke-width="0.7"/>
<text x="391.85" y="306.09999999999997" font-size="2.1" text-anchor="middle" font-weight="normal" fill="#444" stroke="#444" stroke-width="0.22">150K</text>
<line x1="394.40000000000003" y1="301.4" x2="394.40000000000003" y2="302.5" stroke="#444" stroke-width="0.5"/>
<line x1="396.95000000000005" y1="301.4" x2="396.95000000000005" y2="302.5" stroke="#444" stroke-width="0.5"/>
<line x1="399.5" y1="301.4" x2="399.5" y2="302.5" stroke="#444" stroke-width="0.5"/>
<line x1="402.05" y1="301.4" x2="402.05" y2="302.5" stroke="#444" stroke-width="0.5"/>
<line x1="404.6" y1="301.4" x2="404.6" y2="303.29999999999995" stroke="#333" stroke-width="0.7"/>
<text x="404.6" y="306.09999999999997" font-size="2.1" text-anchor="middle" font-weight="normal" fill="#444" stroke="#444" stroke-width="0.22">200K</text>
<line x1="407.15000000000003" y1="301.4" x2="407.15000000000003" y2="302.5" stroke="#444" stroke-width="0.5"/>
<line x1="409.70000000000005" y1="301.4" x2="409.70000000000005" y2="302.5" stroke="#444" stroke-width="0.5"/>
<line x1="412.25" y1="301.4" x2="412.25" y2="302.5" stroke="#444" stroke-width="0.5"/>
<line x1="414.8" y1="301.4" x2="414.8" y2="302.5" stroke="#444" stroke-width="0.5"/>
<line x1="417.35" y1="301.4" x2="417.35" y2="303.29999999999995" stroke="#333" stroke-width="0.7"/>
<text x="417.35" y="306.09999999999997" font-size="2.1" text-anchor="middle" font-weight="normal" fill="#444" stroke="#444" stroke-width="0.22">250K</text>
<line x1="419.90000000000003" y1="301.4" x2="419.90000000000003" y2="302.5" stroke="#444" stroke-width="0.5"/>
<line x1="422.45000000000005" y1="301.4" x2="422.45000000000005" y2="302.5" stroke="#444" stroke-width="0.5"/>
<line x1="161.6" y1="177" x2="161.6" y2="302.5" stroke="#000" stroke-width="1.1"/>
<polygon points="161.6,172.3 158.7,180 161.6,178.6 164.5,180" fill="#000"/>
<line x1="176.8" y1="311.2" x2="296" y2="311.2" stroke="#000" stroke-width="1.2"/>
<polygon points="301.6,311.2 293.7,308.4 295.2,311.2 293.7,314" fill="#000"/>
<text x="158.4" y="282.7" font-size="8.4" text-anchor="middle" font-weight="normal" fill="#111" transform="rotate(-90 158.4 282.7)" stroke="#111" stroke-width="0.22">BAFF-PE</text>
<text x="177.3" y="320" font-size="8.8" text-anchor="start" font-weight="normal" fill="#111" stroke="#111" stroke-width="0.22">FSC-A</text>
<text x="1.2" y="378" font-size="12.6" text-anchor="start" font-weight="bold" fill="#000">E</text>
<text x="71.4" y="368.8" font-size="10.8" text-anchor="middle" font-weight="normal" fill="#111" stroke="#111" stroke-width="0.22">JeKo-1</text>
<line x1="27.4" y1="376.8" x2="27.4" y2="448.90000000000003" stroke="#000" stroke-width="1.25"/>
<line x1="26.799999999999997" y1="448.3" x2="132.6" y2="448.3" stroke="#000" stroke-width="1.25"/>
<line x1="24.599999999999998" y1="448.3" x2="27.4" y2="448.3" stroke="#000" stroke-width="1.0"/>
<text x="24.099999999999998" y="450.1" font-size="5.0" text-anchor="end" font-weight="bold" fill="#222" stroke="#222" stroke-width="0.15">0</text>
<line x1="24.599999999999998" y1="430.55" x2="27.4" y2="430.55" stroke="#000" stroke-width="1.0"/>
<text x="24.099999999999998" y="432.35" font-size="5.0" text-anchor="end" font-weight="bold" fill="#222" stroke="#222" stroke-width="0.15">20</text>
<line x1="24.599999999999998" y1="412.8" x2="27.4" y2="412.8" stroke="#000" stroke-width="1.0"/>
<text x="24.099999999999998" y="414.6" font-size="5.0" text-anchor="end" font-weight="bold" fill="#222" stroke="#222" stroke-width="0.15">40</text>
<line x1="24.599999999999998" y1="395.05" x2="27.4" y2="395.05" stroke="#000" stroke-width="1.0"/>
<text x="24.099999999999998" y="396.85" font-size="5.0" text-anchor="end" font-weight="bold" fill="#222" stroke="#222" stroke-width="0.15">60</text>
<line x1="24.599999999999998" y1="377.3" x2="27.4" y2="377.3" stroke="#000" stroke-width="1.0"/>
<text x="24.099999999999998" y="379.1" font-size="5.0" text-anchor="end" font-weight="bold" fill="#222" stroke="#222" stroke-width="0.15">80</text>
<text x="15.4" y="412.4" font-size="6.8" text-anchor="middle" font-weight="normal" fill="#4a4a4a" transform="rotate(-90 15.4 412.4)" stroke="#4a4a4a" stroke-width="0.08">Specific lysis %</text>
<line x1="38.5" y1="390.9" x2="38.5" y2="384.2" stroke="#000" stroke-width="0.8"/>
<line x1="36.0" y1="384.2" x2="41.0" y2="384.2" stroke="#000" stroke-width="0.9"/>
<rect x="33.10" y="390.90" width="10.80" height="57.40" fill="#000" stroke="none" stroke-width="0.5"/>
<line x1="38.5" y1="448.3" x2="38.5" y2="450.90000000000003" stroke="#000" stroke-width="1.0"/>
<text x="40.5" y="453.8" font-size="5.8" text-anchor="end" font-weight="bold" fill="#1a1a1a" transform="rotate(-45 40.5 453.8)" stroke="#1a1a1a" stroke-width="0.22">Rituximab</text>
<line x1="60.05" y1="391.9" x2="60.05" y2="389.5" stroke="#333" stroke-width="0.8"/>
<line x1="57.55" y1="389.5" x2="62.55" y2="389.5" stroke="#333" stroke-width="0.9"/>
<rect x="54.80" y="391.90" width="10.50" height="56.40" fill="#b3b7ba" stroke="none" stroke-width="0.5"/>
<line x1="60.05" y1="448.3" x2="60.05" y2="450.90000000000003" stroke="#000" stroke-width="1.0"/>
<text x="62.05" y="453.8" font-size="5.8" text-anchor="end" font-weight="bold" fill="#1a1a1a" transform="rotate(-45 62.05 453.8)" stroke="#1a1a1a" stroke-width="0.22">C90</text>
<line x1="81.25" y1="397.9" x2="81.25" y2="393.4" stroke="#333" stroke-width="0.8"/>
<line x1="78.75" y1="393.4" x2="83.75" y2="393.4" stroke="#333" stroke-width="0.9"/>
<rect x="75.70" y="397.90" width="11.10" height="50.40" fill="#9a9a9a" stroke="none" stroke-width="0.5"/>
<line x1="81.25" y1="448.3" x2="81.25" y2="450.90000000000003" stroke="#000" stroke-width="1.0"/>
<text x="83.25" y="453.8" font-size="5.8" text-anchor="end" font-weight="bold" fill="#1a1a1a" transform="rotate(-45 83.25 453.8)" stroke="#1a1a1a" stroke-width="0.22">C55</text>
<line x1="102.85" y1="427.2" x2="102.85" y2="420.3" stroke="#333" stroke-width="0.8"/>
<line x1="100.35" y1="420.3" x2="105.35" y2="420.3" stroke="#333" stroke-width="0.9"/>
<rect x="97.30" y="427.20" width="11.10" height="21.10" fill="#dcdcdc" stroke="none" stroke-width="0.5"/>
<line x1="102.85" y1="448.3" x2="102.85" y2="450.90000000000003" stroke="#000" stroke-width="1.0"/>
<text x="104.85" y="453.8" font-size="5.8" text-anchor="end" font-weight="bold" fill="#1a1a1a" transform="rotate(-45 104.85 453.8)" stroke="#1a1a1a" stroke-width="0.22">Control IgG</text>
<line x1="124.25" y1="432.9" x2="124.25" y2="430.2" stroke="#333" stroke-width="0.8"/>
<line x1="121.75" y1="430.2" x2="126.75" y2="430.2" stroke="#333" stroke-width="0.9"/>
<rect x="118.90" y="432.90" width="10.70" height="15.40" fill="#888" stroke="none" stroke-width="0.5"/>
<line x1="124.25" y1="448.3" x2="124.25" y2="450.90000000000003" stroke="#000" stroke-width="1.0"/>
<text x="126.25" y="453.8" font-size="5.8" text-anchor="end" font-weight="bold" fill="#1a1a1a" transform="rotate(-45 126.25 453.8)" stroke="#1a1a1a" stroke-width="0.22">NK Only</text>
<line x1="37.3" y1="378.2" x2="126.9" y2="378.2" stroke="#000" stroke-width="1.35"/>
<line x1="59.8" y1="381.9" x2="126.9" y2="381.9" stroke="#1a1a1a" stroke-width="1.15"/>
<line x1="81" y1="384.9" x2="126.9" y2="384.9" stroke="#1a1a1a" stroke-width="1.15"/>
<text x="81" y="377.29999999999995" font-size="5.2" text-anchor="middle" font-weight="bold" fill="#222" stroke="#222" stroke-width="0.15">**</text>
<text x="199.9" y="367.9" font-size="10.8" text-anchor="middle" font-weight="normal" fill="#111" stroke="#111" stroke-width="0.22">SU-DHL-6</text>
<line x1="158.8" y1="384.9" x2="158.8" y2="451.8" stroke="#000" stroke-width="1.25"/>
<line x1="158.20000000000002" y1="451.2" x2="260.8" y2="451.2" stroke="#000" stroke-width="1.25"/>
<line x1="156.0" y1="451.2" x2="158.8" y2="451.2" stroke="#000" stroke-width="1.0"/>
<text x="155.5" y="453.0" font-size="5.0" text-anchor="end" font-weight="bold" fill="#222" stroke="#222" stroke-width="0.15">0</text>
<line x1="156.0" y1="434.75" x2="158.8" y2="434.75" stroke="#000" stroke-width="1.0"/>
<text x="155.5" y="436.55" font-size="5.0" text-anchor="end" font-weight="bold" fill="#222" stroke="#222" stroke-width="0.15">20</text>
<line x1="156.0" y1="418.29999999999995" x2="158.8" y2="418.29999999999995" stroke="#000" stroke-width="1.0"/>
<text x="155.5" y="420.09999999999997" font-size="5.0" text-anchor="end" font-weight="bold" fill="#222" stroke="#222" stroke-width="0.15">40</text>
<line x1="156.0" y1="401.84999999999997" x2="158.8" y2="401.84999999999997" stroke="#000" stroke-width="1.0"/>
<text x="155.5" y="403.65" font-size="5.0" text-anchor="end" font-weight="bold" fill="#222" stroke="#222" stroke-width="0.15">60</text>
<line x1="156.0" y1="385.4" x2="158.8" y2="385.4" stroke="#000" stroke-width="1.0"/>
<text x="155.5" y="387.2" font-size="5.0" text-anchor="end" font-weight="bold" fill="#222" stroke="#222" stroke-width="0.15">80</text>
<text x="147" y="416.9" font-size="7.3" text-anchor="middle" font-weight="normal" fill="#4a4a4a" transform="rotate(-90 147 416.9)" stroke="#4a4a4a" stroke-width="0.08">Specific lysis %</text>
<line x1="169.2" y1="395.1" x2="169.2" y2="393.7" stroke="#000" stroke-width="0.8"/>
<line x1="166.7" y1="393.7" x2="171.7" y2="393.7" stroke="#000" stroke-width="0.9"/>
<rect x="164.00" y="395.10" width="10.40" height="56.10" fill="#000" stroke="none" stroke-width="0.5"/>
<line x1="169.2" y1="451.2" x2="169.2" y2="453.8" stroke="#000" stroke-width="1.0"/>
<text x="171.2" y="456.7" font-size="5.8" text-anchor="end" font-weight="bold" fill="#1a1a1a" transform="rotate(-45 171.2 456.7)" stroke="#1a1a1a" stroke-width="0.22">Rituximab</text>
<line x1="189.05" y1="388.7" x2="189.05" y2="387.5" stroke="#333" stroke-width="0.8"/>
<line x1="186.55" y1="387.5" x2="191.55" y2="387.5" stroke="#333" stroke-width="0.9"/>
<rect x="183.90" y="388.70" width="10.30" height="62.50" fill="#b3b7ba" stroke="none" stroke-width="0.5"/>
<line x1="189.05" y1="451.2" x2="189.05" y2="453.8" stroke="#000" stroke-width="1.0"/>
<text x="191.05" y="456.7" font-size="5.8" text-anchor="end" font-weight="bold" fill="#1a1a1a" transform="rotate(-45 191.05 456.7)" stroke="#1a1a1a" stroke-width="0.22">C90</text>
<line x1="209.2" y1="403.9" x2="209.2" y2="401.2" stroke="#333" stroke-width="0.8"/>
<line x1="206.7" y1="401.2" x2="211.7" y2="401.2" stroke="#333" stroke-width="0.9"/>
<rect x="204.00" y="403.90" width="10.40" height="47.30" fill="#9a9a9a" stroke="none" stroke-width="0.5"/>
<line x1="209.2" y1="451.2" x2="209.2" y2="453.8" stroke="#000" stroke-width="1.0"/>
<text x="211.2" y="456.7" font-size="5.8" text-anchor="end" font-weight="bold" fill="#1a1a1a" transform="rotate(-45 211.2 456.7)" stroke="#1a1a1a" stroke-width="0.22">C55</text>
<line x1="228.8" y1="432.3" x2="228.8" y2="429.3" stroke="#333" stroke-width="0.8"/>
<line x1="226.3" y1="429.3" x2="231.3" y2="429.3" stroke="#333" stroke-width="0.9"/>
<rect x="223.70" y="432.30" width="10.20" height="18.90" fill="#dcdcdc" stroke="none" stroke-width="0.5"/>
<line x1="228.8" y1="451.2" x2="228.8" y2="453.8" stroke="#000" stroke-width="1.0"/>
<text x="230.8" y="456.7" font-size="5.8" text-anchor="end" font-weight="bold" fill="#1a1a1a" transform="rotate(-45 230.8 456.7)" stroke="#1a1a1a" stroke-width="0.22">Control IgG</text>
<line x1="248.75" y1="435.9" x2="248.75" y2="434.7" stroke="#333" stroke-width="0.8"/>
<line x1="246.25" y1="434.7" x2="251.25" y2="434.7" stroke="#333" stroke-width="0.9"/>
<rect x="243.80" y="435.90" width="9.90" height="15.30" fill="#888" stroke="none" stroke-width="0.5"/>
<line x1="248.75" y1="451.2" x2="248.75" y2="453.8" stroke="#000" stroke-width="1.0"/>
<text x="250.75" y="456.7" font-size="5.8" text-anchor="end" font-weight="bold" fill="#1a1a1a" transform="rotate(-45 250.75 456.7)" stroke="#1a1a1a" stroke-width="0.22">NK Only</text>
<line x1="169.2" y1="377.5" x2="252.8" y2="377.5" stroke="#000" stroke-width="1.35"/>
<line x1="190.6" y1="380.6" x2="252.8" y2="380.6" stroke="#1a1a1a" stroke-width="1.15"/>
<line x1="209.4" y1="383.5" x2="252.8" y2="383.5" stroke="#1a1a1a" stroke-width="1.15"/>
<text x="209.9" y="376.4" font-size="5.2" text-anchor="middle" font-weight="bold" fill="#222" stroke="#222" stroke-width="0.15">**</text>
<text x="327.8" y="368.8" font-size="10.8" text-anchor="middle" font-weight="normal" fill="#111" stroke="#111" stroke-width="0.22">Raji</text>
<line x1="283.7" y1="377.5" x2="283.7" y2="449.0" stroke="#000" stroke-width="1.25"/>
<line x1="283.09999999999997" y1="448.4" x2="391.7" y2="448.4" stroke="#000" stroke-width="1.25"/>
<line x1="280.9" y1="448.4" x2="283.7" y2="448.4" stroke="#000" stroke-width="1.0"/>
<text x="280.4" y="450.2" font-size="5.0" text-anchor="end" font-weight="bold" fill="#222" stroke="#222" stroke-width="0.15">0</text>
<line x1="280.9" y1="430.79999999999995" x2="283.7" y2="430.79999999999995" stroke="#000" stroke-width="1.0"/>
<text x="280.4" y="432.59999999999997" font-size="5.0" text-anchor="end" font-weight="bold" fill="#222" stroke="#222" stroke-width="0.15">20</text>
<line x1="280.9" y1="413.2" x2="283.7" y2="413.2" stroke="#000" stroke-width="1.0"/>
<text x="280.4" y="415.0" font-size="5.0" text-anchor="end" font-weight="bold" fill="#222" stroke="#222" stroke-width="0.15">40</text>
<line x1="280.9" y1="395.6" x2="283.7" y2="395.6" stroke="#000" stroke-width="1.0"/>
<text x="280.4" y="397.40000000000003" font-size="5.0" text-anchor="end" font-weight="bold" fill="#222" stroke="#222" stroke-width="0.15">60</text>
<line x1="280.9" y1="378.0" x2="283.7" y2="378.0" stroke="#000" stroke-width="1.0"/>
<text x="280.4" y="379.8" font-size="5.0" text-anchor="end" font-weight="bold" fill="#222" stroke="#222" stroke-width="0.15">80</text>
<text x="272.3" y="413.6" font-size="6.5" text-anchor="middle" font-weight="normal" fill="#4a4a4a" transform="rotate(-90 272.3 413.6)" stroke="#4a4a4a" stroke-width="0.08">Specific lysis %</text>
<line x1="294.7" y1="387" x2="294.7" y2="385" stroke="#000" stroke-width="0.8"/>
<line x1="292.2" y1="385" x2="297.2" y2="385" stroke="#000" stroke-width="0.9"/>
<rect x="289.40" y="387.00" width="10.60" height="61.40" fill="#000" stroke="none" stroke-width="0.5"/>
<line x1="294.7" y1="448.4" x2="294.7" y2="451.0" stroke="#000" stroke-width="1.0"/>
<text x="296.7" y="453.9" font-size="5.8" text-anchor="end" font-weight="bold" fill="#1a1a1a" transform="rotate(-45 296.7 453.9)" stroke="#1a1a1a" stroke-width="0.22">Rituximab</text>
<line x1="316.15" y1="409.9" x2="316.15" y2="408.4" stroke="#333" stroke-width="0.8"/>
<line x1="313.65" y1="408.4" x2="318.65" y2="408.4" stroke="#333" stroke-width="0.9"/>
<rect x="310.90" y="409.90" width="10.50" height="38.50" fill="#b3b7ba" stroke="none" stroke-width="0.5"/>
<line x1="316.15" y1="448.4" x2="316.15" y2="451.0" stroke="#000" stroke-width="1.0"/>
<text x="318.15" y="453.9" font-size="5.8" text-anchor="end" font-weight="bold" fill="#1a1a1a" transform="rotate(-45 318.15 453.9)" stroke="#1a1a1a" stroke-width="0.22">C90</text>
<line x1="337.7" y1="409.6" x2="337.7" y2="408.7" stroke="#333" stroke-width="0.8"/>
<line x1="335.2" y1="408.7" x2="340.2" y2="408.7" stroke="#333" stroke-width="0.9"/>
<rect x="332.50" y="409.60" width="10.40" height="38.80" fill="#9a9a9a" stroke="none" stroke-width="0.5"/>
<line x1="337.7" y1="448.4" x2="337.7" y2="451.0" stroke="#000" stroke-width="1.0"/>
<text x="339.7" y="453.9" font-size="5.8" text-anchor="end" font-weight="bold" fill="#1a1a1a" transform="rotate(-45 339.7 453.9)" stroke="#1a1a1a" stroke-width="0.22">C55</text>
<line x1="358.79999999999995" y1="441.3" x2="358.79999999999995" y2="439.2" stroke="#333" stroke-width="0.8"/>
<line x1="356.29999999999995" y1="439.2" x2="361.29999999999995" y2="439.2" stroke="#333" stroke-width="0.9"/>
<rect x="353.70" y="441.30" width="10.20" height="7.10" fill="#dcdcdc" stroke="none" stroke-width="0.5"/>
<line x1="358.79999999999995" y1="448.4" x2="358.79999999999995" y2="451.0" stroke="#000" stroke-width="1.0"/>
<text x="360.79999999999995" y="453.9" font-size="5.8" text-anchor="end" font-weight="bold" fill="#1a1a1a" transform="rotate(-45 360.79999999999995 453.9)" stroke="#1a1a1a" stroke-width="0.22">Control IgG</text>
<line x1="379.79999999999995" y1="442.8" x2="379.79999999999995" y2="440.7" stroke="#333" stroke-width="0.8"/>
<line x1="377.29999999999995" y1="440.7" x2="382.29999999999995" y2="440.7" stroke="#333" stroke-width="0.9"/>
<rect x="374.70" y="442.80" width="10.20" height="5.60" fill="#888" stroke="none" stroke-width="0.5"/>
<line x1="379.79999999999995" y1="448.4" x2="379.79999999999995" y2="451.0" stroke="#000" stroke-width="1.0"/>
<text x="381.79999999999995" y="453.9" font-size="5.8" text-anchor="end" font-weight="bold" fill="#1a1a1a" transform="rotate(-45 381.79999999999995 453.9)" stroke="#1a1a1a" stroke-width="0.22">NK Only</text>
<line x1="295.3" y1="378.3" x2="384.6" y2="378.3" stroke="#000" stroke-width="1.35"/>
<line x1="317.3" y1="381.6" x2="384.6" y2="381.6" stroke="#1a1a1a" stroke-width="1.15"/>
<line x1="338.5" y1="384.5" x2="384.6" y2="384.5" stroke="#1a1a1a" stroke-width="1.15"/>
<text x="338.5" y="376.9" font-size="5.2" text-anchor="middle" font-weight="bold" fill="#222" stroke="#222" stroke-width="0.15">**</text>
<text x="455.8" y="367.9" font-size="10.8" text-anchor="middle" font-weight="normal" fill="#111" stroke="#111" stroke-width="0.22">RL</text>
<line x1="412.2" y1="377.0" x2="412.2" y2="448.90000000000003" stroke="#000" stroke-width="1.25"/>
<line x1="411.59999999999997" y1="448.3" x2="517.6" y2="448.3" stroke="#000" stroke-width="1.25"/>
<line x1="409.4" y1="448.3" x2="412.2" y2="448.3" stroke="#000" stroke-width="1.0"/>
<text x="408.9" y="450.1" font-size="5.0" text-anchor="end" font-weight="bold" fill="#222" stroke="#222" stroke-width="0.15">0</text>
<line x1="409.4" y1="430.6" x2="412.2" y2="430.6" stroke="#000" stroke-width="1.0"/>
<text x="408.9" y="432.40000000000003" font-size="5.0" text-anchor="end" font-weight="bold" fill="#222" stroke="#222" stroke-width="0.15">20</text>
<line x1="409.4" y1="412.9" x2="412.2" y2="412.9" stroke="#000" stroke-width="1.0"/>
<text x="408.9" y="414.7" font-size="5.0" text-anchor="end" font-weight="bold" fill="#222" stroke="#222" stroke-width="0.15">40</text>
<line x1="409.4" y1="395.2" x2="412.2" y2="395.2" stroke="#000" stroke-width="1.0"/>
<text x="408.9" y="397.0" font-size="5.0" text-anchor="end" font-weight="bold" fill="#222" stroke="#222" stroke-width="0.15">60</text>
<line x1="409.4" y1="377.5" x2="412.2" y2="377.5" stroke="#000" stroke-width="1.0"/>
<text x="408.9" y="379.3" font-size="5.0" text-anchor="end" font-weight="bold" fill="#222" stroke="#222" stroke-width="0.15">80</text>
<text x="399.2" y="414.7" font-size="6.4" text-anchor="middle" font-weight="normal" fill="#4a4a4a" transform="rotate(-90 399.2 414.7)" stroke="#4a4a4a" stroke-width="0.08">Specific lysis %</text>
<line x1="422.75" y1="388.8" x2="422.75" y2="384.6" stroke="#000" stroke-width="0.8"/>
<line x1="420.25" y1="384.6" x2="425.25" y2="384.6" stroke="#000" stroke-width="0.9"/>
<rect x="417.30" y="388.80" width="10.90" height="59.50" fill="#000" stroke="none" stroke-width="0.5"/>
<line x1="422.75" y1="448.3" x2="422.75" y2="450.90000000000003" stroke="#000" stroke-width="1.0"/>
<text x="424.75" y="453.8" font-size="5.8" text-anchor="end" font-weight="bold" fill="#1a1a1a" transform="rotate(-45 424.75 453.8)" stroke="#1a1a1a" stroke-width="0.22">Rituximab</text>
<line x1="444.45" y1="406" x2="444.45" y2="403" stroke="#333" stroke-width="0.8"/>
<line x1="441.95" y1="403" x2="446.95" y2="403" stroke="#333" stroke-width="0.9"/>
<rect x="438.90" y="406.00" width="11.10" height="42.30" fill="#b3b7ba" stroke="none" stroke-width="0.5"/>
<line x1="444.45" y1="448.3" x2="444.45" y2="450.90000000000003" stroke="#000" stroke-width="1.0"/>
<text x="446.45" y="453.8" font-size="5.8" text-anchor="end" font-weight="bold" fill="#1a1a1a" transform="rotate(-45 446.45 453.8)" stroke="#1a1a1a" stroke-width="0.22">C90</text>
<line x1="465.79999999999995" y1="413.7" x2="465.79999999999995" y2="409.9" stroke="#333" stroke-width="0.8"/>
<line x1="463.29999999999995" y1="409.9" x2="468.29999999999995" y2="409.9" stroke="#333" stroke-width="0.9"/>
<rect x="460.40" y="413.70" width="10.80" height="34.60" fill="#9a9a9a" stroke="none" stroke-width="0.5"/>
<line x1="465.79999999999995" y1="448.3" x2="465.79999999999995" y2="450.90000000000003" stroke="#000" stroke-width="1.0"/>
<text x="467.79999999999995" y="453.8" font-size="5.8" text-anchor="end" font-weight="bold" fill="#1a1a1a" transform="rotate(-45 467.79999999999995 453.8)" stroke="#1a1a1a" stroke-width="0.22">C55</text>
<line x1="486.95" y1="440.4" x2="486.95" y2="438.6" stroke="#333" stroke-width="0.8"/>
<line x1="484.45" y1="438.6" x2="489.45" y2="438.6" stroke="#333" stroke-width="0.9"/>
<rect x="481.70" y="440.40" width="10.50" height="7.90" fill="#dcdcdc" stroke="none" stroke-width="0.5"/>
<line x1="486.95" y1="448.3" x2="486.95" y2="450.90000000000003" stroke="#000" stroke-width="1.0"/>
<text x="488.95" y="453.8" font-size="5.8" text-anchor="end" font-weight="bold" fill="#1a1a1a" transform="rotate(-45 488.95 453.8)" stroke="#1a1a1a" stroke-width="0.22">Control IgG</text>
<line x1="508.5" y1="442.2" x2="508.5" y2="438.3" stroke="#333" stroke-width="0.8"/>
<line x1="506.0" y1="438.3" x2="511.0" y2="438.3" stroke="#333" stroke-width="0.9"/>
<rect x="503.30" y="442.20" width="10.40" height="6.10" fill="#888" stroke="none" stroke-width="0.5"/>
<line x1="508.5" y1="448.3" x2="508.5" y2="450.90000000000003" stroke="#000" stroke-width="1.0"/>
<text x="510.5" y="453.8" font-size="5.8" text-anchor="end" font-weight="bold" fill="#1a1a1a" transform="rotate(-45 510.5 453.8)" stroke="#1a1a1a" stroke-width="0.22">NK Only</text>
<line x1="422.3" y1="378.3" x2="512.2" y2="378.3" stroke="#000" stroke-width="1.35"/>
<line x1="445.1" y1="381.6" x2="512.2" y2="381.6" stroke="#1a1a1a" stroke-width="1.15"/>
<line x1="466.1" y1="384.5" x2="512.2" y2="384.5" stroke="#1a1a1a" stroke-width="1.15"/>
<text x="466.1" y="376.9" font-size="5.2" text-anchor="middle" font-weight="bold" fill="#222" stroke="#222" stroke-width="0.15">**</text>
</svg></body></html>
